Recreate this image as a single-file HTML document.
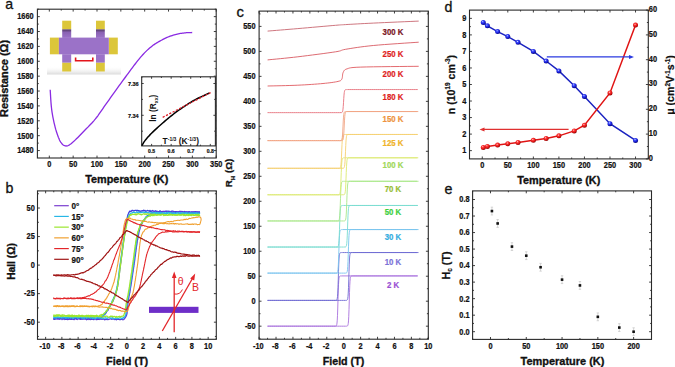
<!DOCTYPE html><html><head><meta charset="utf-8"><style>html,body{margin:0;padding:0;background:#fff;width:675px;height:367px;overflow:hidden}svg{display:block}text{font-family:"Liberation Sans",sans-serif}</style></head><body>
<svg width="675" height="367" viewBox="0 0 675 367">
<rect width="675" height="367" fill="#fff"/>
<defs><linearGradient id="shad" x1="0" y1="0" x2="0" y2="1"><stop offset="0" stop-color="#fff" stop-opacity="0"/><stop offset="1" stop-color="#bdbdbd"/></linearGradient><linearGradient id="pvt" x1="0" y1="0" x2="0" y2="1"><stop offset="0" stop-color="#4e3660"/><stop offset="0.35" stop-color="#8a62b3"/><stop offset="1" stop-color="#9b72c8"/></linearGradient></defs>
<defs><radialGradient id="shad2" cx="0.5" cy="1" r="0.6" gradientTransform="translate(0 0) scale(1 1)"><stop offset="0" stop-color="#9a9a9a"/><stop offset="1" stop-color="#fff" stop-opacity="0"/></radialGradient></defs>
<rect x="47" y="66" width="74" height="8.5" fill="url(#shad)" opacity="0.55"/>
<rect x="49.9" y="37.6" width="9" height="16.7" fill="#dcc63a"/>
<rect x="108.8" y="37.6" width="9" height="16.7" fill="#dcc63a"/>
<rect x="62.2" y="20.7" width="9" height="8.7" fill="#dcc63a"/>
<rect x="96" y="20.7" width="8.8" height="8.7" fill="#dcc63a"/>
<rect x="62.2" y="62.5" width="9" height="9" fill="#dcc63a"/>
<rect x="96" y="62.5" width="8.8" height="9" fill="#dcc63a"/>
<rect x="58.9" y="37.6" width="49.9" height="16.7" fill="#9b72c8"/>
<rect x="62.2" y="29.4" width="9" height="8.5" fill="url(#pvt)"/>
<rect x="96" y="29.4" width="8.8" height="8.5" fill="url(#pvt)"/>
<rect x="62.2" y="54.2" width="9" height="8.4" fill="#9b72c8"/>
<rect x="96" y="54.2" width="8.8" height="8.4" fill="#9b72c8"/>
<path d="M75.6 57.4 V60.8 H92.8 V57.4" fill="none" stroke="#e3141b" stroke-width="1.6"/>
<rect x="37.4" y="9.2" width="178.8" height="148.8" fill="none" stroke="#2a2a2a" stroke-width="1.1"/>
<path d="M49.32 158 v-2.4 M49.32 9.2 v2.4 M73.16 158 v-2.4 M73.16 9.2 v2.4 M97 158 v-2.4 M97 9.2 v2.4 M120.84 158 v-2.4 M120.84 9.2 v2.4 M144.68 158 v-2.4 M144.68 9.2 v2.4 M168.52 158 v-2.4 M168.52 9.2 v2.4 M192.36 158 v-2.4 M192.36 9.2 v2.4 M216.2 158 v-2.4 M216.2 9.2 v2.4 M61.24 158 v-1.4 M61.24 9.2 v1.4 M85.08 158 v-1.4 M85.08 9.2 v1.4 M108.92 158 v-1.4 M108.92 9.2 v1.4 M132.76 158 v-1.4 M132.76 9.2 v1.4 M156.6 158 v-1.4 M156.6 9.2 v1.4 M180.44 158 v-1.4 M180.44 9.2 v1.4 M204.28 158 v-1.4 M204.28 9.2 v1.4 M37.4 150.56 h2.4 M216.2 150.56 h-2.4 M37.4 135.68 h2.4 M216.2 135.68 h-2.4 M37.4 120.8 h2.4 M216.2 120.8 h-2.4 M37.4 105.92 h2.4 M216.2 105.92 h-2.4 M37.4 91.04 h2.4 M216.2 91.04 h-2.4 M37.4 76.16 h2.4 M216.2 76.16 h-2.4 M37.4 61.28 h2.4 M216.2 61.28 h-2.4 M37.4 46.4 h2.4 M216.2 46.4 h-2.4 M37.4 31.52 h2.4 M216.2 31.52 h-2.4 M37.4 16.64 h2.4 M216.2 16.64 h-2.4 M37.4 143.12 h1.4 M216.2 143.12 h-1.4 M37.4 128.24 h1.4 M216.2 128.24 h-1.4 M37.4 113.36 h1.4 M216.2 113.36 h-1.4 M37.4 98.48 h1.4 M216.2 98.48 h-1.4 M37.4 83.6 h1.4 M216.2 83.6 h-1.4 M37.4 68.72 h1.4 M216.2 68.72 h-1.4 M37.4 53.84 h1.4 M216.2 53.84 h-1.4 M37.4 38.96 h1.4 M216.2 38.96 h-1.4 M37.4 24.08 h1.4 M216.2 24.08 h-1.4 M37.4 9.2 h1.4 M216.2 9.2 h-1.4" stroke="#2a2a2a" stroke-width="0.9" fill="none"/>
<text transform="translate(49.32 167.45) scale(0.88 1)" font-size="8.4" text-anchor="middle" font-weight="bold" fill="#111" stroke="#111" stroke-width="0.22" >0</text>
<text transform="translate(73.16 167.45) scale(0.88 1)" font-size="8.4" text-anchor="middle" font-weight="bold" fill="#111" stroke="#111" stroke-width="0.22" >50</text>
<text transform="translate(97 167.45) scale(0.88 1)" font-size="8.4" text-anchor="middle" font-weight="bold" fill="#111" stroke="#111" stroke-width="0.22" >100</text>
<text transform="translate(120.84 167.45) scale(0.88 1)" font-size="8.4" text-anchor="middle" font-weight="bold" fill="#111" stroke="#111" stroke-width="0.22" >150</text>
<text transform="translate(144.68 167.45) scale(0.88 1)" font-size="8.4" text-anchor="middle" font-weight="bold" fill="#111" stroke="#111" stroke-width="0.22" >200</text>
<text transform="translate(168.52 167.45) scale(0.88 1)" font-size="8.4" text-anchor="middle" font-weight="bold" fill="#111" stroke="#111" stroke-width="0.22" >250</text>
<text transform="translate(192.36 167.45) scale(0.88 1)" font-size="8.4" text-anchor="middle" font-weight="bold" fill="#111" stroke="#111" stroke-width="0.22" >300</text>
<text transform="translate(216.2 167.45) scale(0.88 1)" font-size="8.4" text-anchor="middle" font-weight="bold" fill="#111" stroke="#111" stroke-width="0.22" >350</text>
<text transform="translate(33.6 153.41) scale(0.88 1)" font-size="8.4" text-anchor="end" font-weight="bold" fill="#111" stroke="#111" stroke-width="0.22" >1480</text>
<text transform="translate(33.6 138.53) scale(0.88 1)" font-size="8.4" text-anchor="end" font-weight="bold" fill="#111" stroke="#111" stroke-width="0.22" >1500</text>
<text transform="translate(33.6 123.65) scale(0.88 1)" font-size="8.4" text-anchor="end" font-weight="bold" fill="#111" stroke="#111" stroke-width="0.22" >1520</text>
<text transform="translate(33.6 108.77) scale(0.88 1)" font-size="8.4" text-anchor="end" font-weight="bold" fill="#111" stroke="#111" stroke-width="0.22" >1540</text>
<text transform="translate(33.6 93.89) scale(0.88 1)" font-size="8.4" text-anchor="end" font-weight="bold" fill="#111" stroke="#111" stroke-width="0.22" >1560</text>
<text transform="translate(33.6 79.01) scale(0.88 1)" font-size="8.4" text-anchor="end" font-weight="bold" fill="#111" stroke="#111" stroke-width="0.22" >1580</text>
<text transform="translate(33.6 64.13) scale(0.88 1)" font-size="8.4" text-anchor="end" font-weight="bold" fill="#111" stroke="#111" stroke-width="0.22" >1600</text>
<text transform="translate(33.6 49.25) scale(0.88 1)" font-size="8.4" text-anchor="end" font-weight="bold" fill="#111" stroke="#111" stroke-width="0.22" >1620</text>
<text transform="translate(33.6 34.37) scale(0.88 1)" font-size="8.4" text-anchor="end" font-weight="bold" fill="#111" stroke="#111" stroke-width="0.22" >1640</text>
<text transform="translate(33.6 19.49) scale(0.88 1)" font-size="8.4" text-anchor="end" font-weight="bold" fill="#111" stroke="#111" stroke-width="0.22" >1660</text>
<path d="M50.2 89.8 L50.28 91.09 L50.38 92.83 L50.5 94.91 L50.64 97.2 L50.79 99.59 L50.95 101.95 L51.12 104.16 L51.3 106.1 L51.48 107.8 L51.67 109.38 L51.86 110.87 L52.07 112.3 L52.29 113.71 L52.54 115.12 L52.8 116.58 L53.1 118.1 L53.42 119.7 L53.77 121.35 L54.14 123.03 L54.54 124.72 L54.95 126.4 L55.38 128.05 L55.83 129.66 L56.3 131.2 L56.79 132.72 L57.29 134.24 L57.82 135.76 L58.36 137.22 L58.92 138.62 L59.5 139.92 L60.09 141.09 L60.7 142.1 L61.32 142.97 L61.95 143.75 L62.6 144.41 L63.26 144.96 L63.94 145.4 L64.64 145.72 L65.36 145.92 L66.1 146 L66.84 145.95 L67.56 145.78 L68.3 145.48 L69.06 145.07 L69.86 144.54 L70.72 143.9 L71.66 143.15 L72.7 142.3 L73.85 141.3 L75.11 140.13 L76.44 138.84 L77.84 137.44 L79.27 135.97 L80.72 134.47 L82.17 132.97 L83.6 131.5 L85.03 130.05 L86.48 128.58 L87.96 127.09 L89.44 125.57 L90.92 124.02 L92.38 122.45 L93.81 120.84 L95.2 119.2 L96.54 117.51 L97.85 115.77 L99.13 113.98 L100.39 112.18 L101.64 110.35 L102.88 108.52 L104.13 106.7 L105.4 104.9 L106.68 103.11 L107.96 101.31 L109.24 99.51 L110.52 97.71 L111.8 95.91 L113.07 94.13 L114.34 92.35 L115.6 90.6 L116.85 88.87 L118.07 87.17 L119.29 85.49 L120.51 83.82 L121.73 82.14 L122.96 80.45 L124.22 78.74 L125.5 77 L126.83 75.19 L128.22 73.3 L129.64 71.37 L131.06 69.44 L132.47 67.55 L133.85 65.71 L135.16 63.99 L136.4 62.4 L137.55 60.95 L138.62 59.61 L139.64 58.37 L140.62 57.19 L141.58 56.08 L142.53 55 L143.5 53.95 L144.5 52.9 L145.52 51.87 L146.54 50.87 L147.57 49.9 L148.59 48.98 L149.62 48.08 L150.65 47.22 L151.67 46.39 L152.7 45.6 L153.72 44.85 L154.75 44.14 L155.77 43.47 L156.8 42.84 L157.82 42.23 L158.85 41.64 L159.87 41.07 L160.9 40.5 L161.93 39.95 L162.95 39.41 L163.97 38.89 L165 38.39 L166.03 37.91 L167.05 37.45 L168.08 37.01 L169.1 36.6 L170.12 36.21 L171.15 35.85 L172.17 35.51 L173.2 35.19 L174.22 34.89 L175.25 34.61 L176.27 34.35 L177.3 34.1 L178.34 33.87 L179.39 33.67 L180.44 33.48 L181.49 33.31 L182.53 33.16 L183.56 33.03 L184.55 32.91 L185.5 32.8 L186.46 32.71 L187.44 32.65 L188.42 32.6 L189.36 32.57 L190.24 32.55 L191.03 32.53 L191.69 32.52 L192.2 32.5" fill="none" stroke="#8a2be2" stroke-width="1.3"/>
<text x="126.75" y="183.1" font-size="10.6" text-anchor="middle" font-weight="bold" fill="#111" stroke="#111" stroke-width="0.32" textLength="83.1" lengthAdjust="spacingAndGlyphs">Temperature (K)</text>
<text transform="translate(7.9 78.5) rotate(-90)" font-size="10.6" text-anchor="middle" font-weight="bold" fill="#111" stroke="#111" stroke-width="0.32" textLength="77.1" lengthAdjust="spacingAndGlyphs">Resistance (Ω)</text>
<text transform="translate(5.2 8.6) scale(1.0 1)" font-size="14.2" text-anchor="start" font-weight="normal" fill="#111" stroke="#111" stroke-width="0.3" >a</text>
<rect x="141.7" y="76.8" width="73.7" height="69.1" fill="#fff"/>
<rect x="141.7" y="76.8" width="73.7" height="69.1" fill="none" stroke="#2a2a2a" stroke-width="1.1"/>
<path d="M151.6 145.9 v-2.0 M151.6 76.8 v2.0 M171.17 145.9 v-2.0 M171.17 76.8 v2.0 M190.73 145.9 v-2.0 M190.73 76.8 v2.0 M210.3 145.9 v-2.0 M210.3 76.8 v2.0 M141.82 145.9 v-1.2 M141.82 76.8 v1.2 M161.38 145.9 v-1.2 M161.38 76.8 v1.2 M180.95 145.9 v-1.2 M180.95 76.8 v1.2 M200.52 145.9 v-1.2 M200.52 76.8 v1.2 M141.7 115.3 h2.0 M215.4 115.3 h-2.0 M141.7 83.5 h2.0 M215.4 83.5 h-2.0 M141.7 131.2 h1.2 M215.4 131.2 h-1.2 M141.7 99.4 h1.2 M215.4 99.4 h-1.2" stroke="#2a2a2a" stroke-width="0.9" fill="none"/>
<text transform="translate(151.6 152.6) scale(0.88 1)" font-size="5.8" text-anchor="middle" font-weight="bold" fill="#111" stroke="#111" stroke-width="0.22" >0.5</text>
<text transform="translate(171.17 152.6) scale(0.88 1)" font-size="5.8" text-anchor="middle" font-weight="bold" fill="#111" stroke="#111" stroke-width="0.22" >0.6</text>
<text transform="translate(190.73 152.6) scale(0.88 1)" font-size="5.8" text-anchor="middle" font-weight="bold" fill="#111" stroke="#111" stroke-width="0.22" >0.7</text>
<text transform="translate(210.3 152.6) scale(0.88 1)" font-size="5.8" text-anchor="middle" font-weight="bold" fill="#111" stroke="#111" stroke-width="0.22" >0.8</text>
<text transform="translate(138.5 85.7) scale(0.88 1)" font-size="6.2" text-anchor="end" font-weight="bold" fill="#111" stroke="#111" stroke-width="0.22" >7.36</text>
<text transform="translate(138.5 117.5) scale(0.88 1)" font-size="6.2" text-anchor="end" font-weight="bold" fill="#111" stroke="#111" stroke-width="0.22" >7.34</text>
<path d="M142 145.5 L142.21 145.14 L142.45 144.68 L142.74 144.14 L143.08 143.52 L143.46 142.85 L143.91 142.13 L144.42 141.38 L145 140.6 L145.64 139.8 L146.34 138.95 L147.09 138.05 L147.91 137.12 L148.78 136.14 L149.72 135.13 L150.73 134.08 L151.8 133 L152.97 131.86 L154.24 130.65 L155.59 129.38 L156.99 128.09 L158.43 126.78 L159.88 125.49 L161.31 124.22 L162.7 123 L164.06 121.82 L165.42 120.65 L166.79 119.49 L168.15 118.36 L169.51 117.24 L170.87 116.14 L172.24 115.06 L173.6 114 L174.96 112.97 L176.32 111.96 L177.69 110.97 L179.05 110.01 L180.41 109.06 L181.78 108.12 L183.14 107.21 L184.5 106.3 L185.84 105.41 L187.15 104.55 L188.45 103.71 L189.75 102.88 L191.08 102.06 L192.45 101.24 L193.88 100.43 L195.4 99.6 L197.11 98.73 L199.03 97.79 L201.07 96.83 L203.13 95.88 L205.1 94.99 L206.89 94.18 L208.39 93.51 L209.5 93" fill="none" stroke="#000" stroke-width="1.5"/>
<path d="M162.7 117.3 L210.6 92.6" fill="none" stroke="#e0202a" stroke-width="1.3" stroke-dasharray="2.2 1.5"/>
<text transform="translate(156.2 108.2) rotate(-90)" font-size="8.4" text-anchor="middle" font-weight="bold" fill="#111">ln (R<tspan font-size="5.2" dy="2">xx</tspan><tspan dy="-2">)</tspan></text>
<text x="162.6" y="144.3" font-size="8.4" font-weight="bold" fill="#111">T<tspan font-size="5" dy="-3.6">-1/3</tspan><tspan dy="3.6"> (K</tspan><tspan font-size="5" dy="-3.6">-1/3</tspan><tspan dy="3.6">)</tspan></text>
<rect x="37.5" y="190.9" width="178.8" height="148.4" fill="none" stroke="#2a2a2a" stroke-width="1.1"/>
<path d="M45.63 339.3 v-2.4 M45.63 190.9 v2.4 M61.88 339.3 v-2.4 M61.88 190.9 v2.4 M78.14 339.3 v-2.4 M78.14 190.9 v2.4 M94.39 339.3 v-2.4 M94.39 190.9 v2.4 M110.65 339.3 v-2.4 M110.65 190.9 v2.4 M126.9 339.3 v-2.4 M126.9 190.9 v2.4 M143.15 339.3 v-2.4 M143.15 190.9 v2.4 M159.41 339.3 v-2.4 M159.41 190.9 v2.4 M175.66 339.3 v-2.4 M175.66 190.9 v2.4 M191.92 339.3 v-2.4 M191.92 190.9 v2.4 M208.17 339.3 v-2.4 M208.17 190.9 v2.4 M37.5 339.3 v-1.4 M37.5 190.9 v1.4 M53.75 339.3 v-1.4 M53.75 190.9 v1.4 M70.01 339.3 v-1.4 M70.01 190.9 v1.4 M86.26 339.3 v-1.4 M86.26 190.9 v1.4 M102.52 339.3 v-1.4 M102.52 190.9 v1.4 M118.77 339.3 v-1.4 M118.77 190.9 v1.4 M135.03 339.3 v-1.4 M135.03 190.9 v1.4 M151.28 339.3 v-1.4 M151.28 190.9 v1.4 M167.54 339.3 v-1.4 M167.54 190.9 v1.4 M183.79 339.3 v-1.4 M183.79 190.9 v1.4 M200.05 339.3 v-1.4 M200.05 190.9 v1.4 M216.3 339.3 v-1.4 M216.3 190.9 v1.4 M37.5 322.18 h2.4 M216.3 322.18 h-2.4 M37.5 293.64 h2.4 M216.3 293.64 h-2.4 M37.5 265.1 h2.4 M216.3 265.1 h-2.4 M37.5 236.56 h2.4 M216.3 236.56 h-2.4 M37.5 208.02 h2.4 M216.3 208.02 h-2.4 M37.5 336.45 h1.4 M216.3 336.45 h-1.4 M37.5 307.91 h1.4 M216.3 307.91 h-1.4 M37.5 279.37 h1.4 M216.3 279.37 h-1.4 M37.5 250.83 h1.4 M216.3 250.83 h-1.4 M37.5 222.29 h1.4 M216.3 222.29 h-1.4 M37.5 193.75 h1.4 M216.3 193.75 h-1.4" stroke="#2a2a2a" stroke-width="0.9" fill="none"/>
<text transform="translate(44.93 348.65) scale(0.88 1)" font-size="8.4" text-anchor="middle" font-weight="bold" fill="#111" stroke="#111" stroke-width="0.22" >-10</text>
<text transform="translate(61.18 348.65) scale(0.88 1)" font-size="8.4" text-anchor="middle" font-weight="bold" fill="#111" stroke="#111" stroke-width="0.22" >-8</text>
<text transform="translate(77.44 348.65) scale(0.88 1)" font-size="8.4" text-anchor="middle" font-weight="bold" fill="#111" stroke="#111" stroke-width="0.22" >-6</text>
<text transform="translate(93.69 348.65) scale(0.88 1)" font-size="8.4" text-anchor="middle" font-weight="bold" fill="#111" stroke="#111" stroke-width="0.22" >-4</text>
<text transform="translate(109.95 348.65) scale(0.88 1)" font-size="8.4" text-anchor="middle" font-weight="bold" fill="#111" stroke="#111" stroke-width="0.22" >-2</text>
<text transform="translate(126.9 348.65) scale(0.88 1)" font-size="8.4" text-anchor="middle" font-weight="bold" fill="#111" stroke="#111" stroke-width="0.22" >0</text>
<text transform="translate(143.15 348.65) scale(0.88 1)" font-size="8.4" text-anchor="middle" font-weight="bold" fill="#111" stroke="#111" stroke-width="0.22" >2</text>
<text transform="translate(159.41 348.65) scale(0.88 1)" font-size="8.4" text-anchor="middle" font-weight="bold" fill="#111" stroke="#111" stroke-width="0.22" >4</text>
<text transform="translate(175.66 348.65) scale(0.88 1)" font-size="8.4" text-anchor="middle" font-weight="bold" fill="#111" stroke="#111" stroke-width="0.22" >6</text>
<text transform="translate(191.92 348.65) scale(0.88 1)" font-size="8.4" text-anchor="middle" font-weight="bold" fill="#111" stroke="#111" stroke-width="0.22" >8</text>
<text transform="translate(208.17 348.65) scale(0.88 1)" font-size="8.4" text-anchor="middle" font-weight="bold" fill="#111" stroke="#111" stroke-width="0.22" >10</text>
<text transform="translate(34.8 325.03) scale(0.88 1)" font-size="8.4" text-anchor="end" font-weight="bold" fill="#111" stroke="#111" stroke-width="0.22" >-50</text>
<text transform="translate(34.8 296.49) scale(0.88 1)" font-size="8.4" text-anchor="end" font-weight="bold" fill="#111" stroke="#111" stroke-width="0.22" >-25</text>
<text transform="translate(34.8 267.95) scale(0.88 1)" font-size="8.4" text-anchor="end" font-weight="bold" fill="#111" stroke="#111" stroke-width="0.22" >0</text>
<text transform="translate(34.8 239.41) scale(0.88 1)" font-size="8.4" text-anchor="end" font-weight="bold" fill="#111" stroke="#111" stroke-width="0.22" >25</text>
<text transform="translate(34.8 210.87) scale(0.88 1)" font-size="8.4" text-anchor="end" font-weight="bold" fill="#111" stroke="#111" stroke-width="0.22" >50</text>
<text x="127.1" y="364.9" font-size="10.6" text-anchor="middle" font-weight="bold" fill="#111" stroke="#111" stroke-width="0.32" textLength="42.2" lengthAdjust="spacingAndGlyphs">Field (T)</text>
<text transform="translate(14.7 261.5) rotate(-90)" font-size="10.6" text-anchor="middle" font-weight="bold" fill="#111" stroke="#111" stroke-width="0.32" textLength="36.7" lengthAdjust="spacingAndGlyphs">Hall (Ω)</text>
<text transform="translate(5.6 192.9) scale(1.0 1)" font-size="14.2" text-anchor="start" font-weight="normal" fill="#111" stroke="#111" stroke-width="0.3" >b</text>
<path d="M54.2 205.7 H68.8" stroke="#7b3fd0" stroke-width="1.2"/>
<text transform="translate(71.4 208.9) scale(0.9 1)" font-size="9.0" text-anchor="start" font-weight="bold" fill="#111" stroke="#111" stroke-width="0.22" >0°</text>
<path d="M54.2 216.42 H68.8" stroke="#27b7e6" stroke-width="1.2"/>
<text transform="translate(71.4 219.62) scale(0.9 1)" font-size="9.0" text-anchor="start" font-weight="bold" fill="#111" stroke="#111" stroke-width="0.22" >15°</text>
<path d="M54.2 227.14 H68.8" stroke="#9be62f" stroke-width="1.2"/>
<text transform="translate(71.4 230.34) scale(0.9 1)" font-size="9.0" text-anchor="start" font-weight="bold" fill="#111" stroke="#111" stroke-width="0.22" >30°</text>
<path d="M54.2 237.86 H68.8" stroke="#f0a030" stroke-width="1.2"/>
<text transform="translate(71.4 241.06) scale(0.9 1)" font-size="9.0" text-anchor="start" font-weight="bold" fill="#111" stroke="#111" stroke-width="0.22" >60°</text>
<path d="M54.2 248.58 H68.8" stroke="#e3262a" stroke-width="1.2"/>
<text transform="translate(71.4 251.78) scale(0.9 1)" font-size="9.0" text-anchor="start" font-weight="bold" fill="#111" stroke="#111" stroke-width="0.22" >75°</text>
<path d="M54.2 259.3 H68.8" stroke="#a01515" stroke-width="1.2"/>
<text transform="translate(71.4 262.5) scale(0.9 1)" font-size="9.0" text-anchor="start" font-weight="bold" fill="#111" stroke="#111" stroke-width="0.22" >90°</text>
<path d="M200 212.11 L199.25 212.43 L198.5 212.21 L197.75 212.44 L197 212.44 L196.25 211.8 L195.5 211.72 L194.79 212.61 L194.09 211.95 L193.38 211.9 L192.68 212.71 L191.97 212.11 L191.26 212.49 L190.56 212.07 L189.85 212.23 L189.15 211.67 L188.4 212.18 L187.66 212.41 L186.91 212.01 L186.16 212.23 L185.42 212.13 L184.67 211.43 L183.93 212.17 L183.18 211.97 L182.43 211.62 L181.69 211.3 L180.98 212.2 L180.26 211.74 L179.55 211.99 L178.84 212.15 L178.13 211.94 L177.41 212.15 L176.7 211.55 L175.99 211.97 L175.28 211.56 L174.56 212.08 L173.85 211.99 L173.1 211.11 L172.36 211.13 L171.61 211.2 L170.86 212 L170.11 211.4 L169.37 211.59 L168.62 211.21 L167.87 211.41 L167.12 211.26 L166.38 211.2 L165.67 211.44 L164.96 211.42 L164.25 211.75 L163.54 211.49 L162.83 211.74 L162.13 211.65 L161.42 211.78 L160.71 211.41 L160 210.83 L159.21 211.58 L158.42 211.67 L157.64 211.59 L156.85 211.2 L156.06 211.34 L155.27 210.77 L154.49 211.43 L153.73 211.13 L152.98 210.79 L152.22 210.52 L151.47 211.37 L150.71 211.5 L149.96 210.49 L149.2 211.26 L148.5 210.81 L147.8 210.51 L147.09 210.65 L146.39 211.16 L145.69 211.25 L144.98 210.33 L144.28 210.94 L143.54 210.3 L142.8 211.03 L142.07 210.6 L141.33 211.19 L140.59 211.29 L139.85 210.76 L139.09 211.3 L138.33 210.55 L137.57 210.3 L136.81 210.88 L136.05 210.26 L135.29 210.47 L134.52 210.73 L133.76 210.99 L133 210.52 L131.96 210.5 L130.92 211.5 L129.74 211.14 L129.18 212.17 L128.97 212.54 L128.84 212.57 L128.5 213.46 L128.04 214.46 L127.71 215.64 L127.44 216.78 L127.32 217.45 L127.2 218.22 L127.07 219.42 L126.94 219.79 L126.77 220.71 L126.6 222.04 L126.46 222.31 L126.33 223.17 L126.19 224.71 L126.05 225.1 L125.9 226.03 L125.76 226.34 L125.64 227.53 L125.52 228.46 L125.41 228.58 L125.29 229.98 L125.17 230.8 L125.05 230.98 L124.93 232.4 L124.81 233.03 L124.69 234.11 L124.56 234.6 L124.44 235.84 L124.31 236.72 L124.21 236.64 L124.11 237.39 L124 238.78 L123.9 239.8 L123.8 239.73 L123.69 240.71 L123.59 241.62 L123.48 242.08 L123.37 242.89 L123.27 243.59 L123.15 244.47 L123.04 245.54 L122.93 246.04 L122.82 246.95 L122.7 248.2 L122.61 248.1 L122.51 249.41 L122.41 250.31 L122.32 250.56 L122.22 251.18 L122.12 252.53 L122.03 252.64 L121.93 253.31 L121.83 254.31 L121.74 255.33 L121.64 255.4 L121.54 256.37 L121.44 257.1 L121.35 258.37 L121.25 258.65 L121.15 259.83 L121.06 259.79 L120.96 260.69 L120.85 261.86 L120.74 262.95 L120.62 263.29 L120.51 263.87 L120.4 264.58 L120.29 265.85 L120.19 266.29 L120.08 267.78 L119.97 268.63 L119.86 268.73 L119.76 269.66 L119.66 271.07 L119.55 271.72 L119.45 272.73 L119.35 273.05 L119.25 273.63 L119.14 274.63 L119.04 276 L118.94 276.24 L118.84 277.14 L118.73 278 L118.63 278.79 L118.53 279.56 L118.42 280.9 L118.32 280.84 L118.21 281.4 L118.1 283.15 L117.99 283.8 L117.89 284.64 L117.78 284.75 L117.63 286.11 L117.49 286.88 L117.34 286.9 L117.2 288.27 L117 289.26 L116.8 289.95 L116.6 290.67 L116.4 291.16 L116.19 291.96 L115.99 292.57 L115.67 293.35 L115.36 294.88 L115.02 295.42 L114.69 296.86 L114.33 296.87 L113.97 298.66 L113.59 299.32 L113.2 300.47 L112.78 301.38 L112.35 302.32 L111.89 302.9 L111.43 303.22 L110.95 304.94 L110.47 305.22 L109.97 306.24 L109.48 307.52 L108.98 308.19 L108.48 308.89 L107.99 310.23 L107.5 310.62 L107.02 311.02 L106.54 311.63 L106.06 312.95 L105.57 313.19 L105.09 314.13 L104.61 314.26 L104.12 314.63 L103.63 315.54 L102.63 316.78 L101.6 316.84 L100.95 318.08 L100.75 318.58 L100.54 318.67 L99.83 318.8 L98.98 317.94 L98.14 318.66 L97.35 318.94 L96.57 318.07 L95.78 318.33 L95 318.35 L94.23 318.64 L93.46 318.53 L92.69 318.59 L91.91 318.94 L91.14 318.09 L90.37 318.16 L89.6 318.25 L88.85 318.24 L88.11 318.18 L87.37 319.18 L86.62 319.04 L85.88 318.2 L85.13 318.65 L84.39 318.45 L83.64 318.44 L82.9 318.48 L82.16 318.81 L81.45 318.73 L80.75 318.48 L80.05 318.29 L79.35 318.44 L78.65 318.21 L77.95 318.68 L77.25 318.85 L76.54 318.47 L75.84 318.14 L75.14 318.24 L74.44 318.45 L73.74 318.7 L72.98 318.89 L72.22 318.44 L71.47 318.9 L70.71 318.69 L69.95 318.48 L69.2 318.41 L68.44 318.53 L67.68 318.76 L66.92 318.44 L66.17 318.73 L65.41 318.47 L64.69 318.22 L63.98 318.54 L63.26 318.7 L62.54 318.01 L61.83 318.39 L61.11 318.39 L60.39 318.88 L59.68 318.93 L58.96 318.31 L58.24 318.88 L57.54 318.75 L56.83 318.17 L56.12 318.38 L55.42 318 L54.71 318.76 L54.01 318.58 L53.3 318.83" fill="none" stroke="#3b40dd" stroke-width="1.3" stroke-linejoin="round"/>
<path d="M53.3 319.32 L54.03 319.19 L54.77 319.27 L55.5 319.08 L56.23 318.58 L56.96 319.12 L57.7 318.48 L58.43 318.64 L59.16 319.33 L59.9 318.54 L60.63 318.59 L61.34 318.6 L62.05 319.47 L62.76 318.7 L63.47 318.53 L64.17 319.44 L64.88 318.65 L65.59 319.45 L66.3 319.27 L67.01 319.45 L67.72 319.58 L68.43 319.17 L69.14 319.42 L69.85 318.59 L70.56 319.39 L71.27 319.12 L71.99 319.34 L72.72 318.68 L73.45 319.39 L74.17 319.6 L74.9 318.64 L75.63 318.94 L76.35 319.2 L77.08 319.5 L77.81 318.86 L78.53 318.79 L79.26 318.87 L79.99 319.28 L80.71 319.44 L81.44 319.05 L82.17 319.02 L82.89 319.06 L83.62 319.01 L84.35 319.09 L85.09 318.72 L85.82 319.19 L86.55 319.71 L87.29 319.1 L88.02 319.47 L88.75 318.83 L89.49 319.42 L90.22 319.49 L90.95 319.4 L91.69 319.24 L92.42 319.2 L93.15 319.38 L93.89 319.67 L94.62 318.85 L95.36 318.79 L96.09 319.51 L96.82 319.7 L97.55 319.27 L98.29 319.19 L99.02 319.49 L99.75 318.91 L100.49 319 L101.22 318.93 L101.95 319.36 L102.68 319.06 L103.42 318.98 L104.15 319.48 L104.88 319.78 L105.62 319.06 L106.35 319.51 L107.08 319.19 L107.8 319.68 L108.52 319.38 L109.24 319.03 L109.96 318.98 L110.68 318.77 L111.4 319.27 L112.12 319.17 L112.84 318.94 L113.56 319.14 L114.28 319.1 L115 319.6 L115.76 318.91 L116.52 319.85 L117.28 319.29 L118.04 319.42 L118.8 319.28 L119.56 319.69 L120.36 319.69 L121.17 319.42 L121.97 319.35 L122.91 319.64 L123.03 319.76 L123.01 319.1 L123.5 319.16 L124.36 318.99 L125.02 317.99 L125.54 317.15 L125.96 316.4 L126.33 315.93 L126.7 314.59 L126.87 314.05 L127.04 313.08 L127.13 311.71 L127.22 310.96 L127.31 310.34 L127.38 309.48 L127.45 309.28 L127.52 308.67 L127.59 307.91 L127.66 306.39 L127.73 306.25 L127.8 304.86 L127.87 304.19 L127.94 303.73 L128.03 302.3 L128.11 301.58 L128.2 301.67 L128.34 300.16 L128.48 299.31 L128.62 298.78 L128.76 298.1 L128.91 296.61 L129.06 296.21 L129.22 295.48 L129.38 294.7 L129.57 293.37 L129.76 292.75 L129.9 292.27 L130.05 290.77 L130.2 290.05 L130.33 288.74 L130.47 288.07 L130.6 287.65 L130.73 286.2 L130.86 286.26 L130.98 285.5 L131.1 283.82 L131.22 283.96 L131.34 282.54 L131.45 282.26 L131.57 281.52 L131.68 280.29 L131.79 279.99 L131.9 279.25 L132.01 278.69 L132.12 277.35 L132.23 277.13 L132.35 276.61 L132.46 275.54 L132.58 274.63 L132.69 273.42 L132.8 273.08 L132.91 272.17 L133.03 271.82 L133.14 271.03 L133.25 270.15 L133.36 268.98 L133.47 268.76 L133.58 268.03 L133.68 266.81 L133.79 266.87 L133.89 265.89 L134 264.59 L134.1 264.76 L134.2 263.17 L134.3 262.66 L134.4 262.37 L134.51 261.52 L134.61 260.75 L134.71 260.11 L134.81 259.16 L134.91 258.25 L135.01 257.36 L135.11 256.49 L135.21 256.46 L135.31 255.76 L135.4 254.78 L135.5 254.25 L135.6 253.09 L135.7 252.24 L135.8 251.62 L135.9 251.44 L135.99 249.81 L136.09 249.6 L136.19 248.6 L136.28 248.46 L136.38 247.28 L136.5 246.47 L136.61 245.75 L136.72 245.11 L136.84 244.57 L136.95 243.31 L137.06 243.16 L137.17 241.66 L137.28 241.14 L137.39 240.25 L137.5 239.57 L137.63 239.58 L137.76 238.79 L137.89 237.46 L138.02 236.74 L138.17 236.16 L138.33 235.69 L138.49 234.94 L138.65 234.15 L138.8 233.26 L138.96 232.05 L139.19 231.37 L139.43 230.18 L139.68 229.66 L139.94 228.81 L140.22 227.54 L140.5 226.73 L140.8 226.48 L141.11 224.83 L141.42 224.94 L141.73 224.3 L142.06 223.7 L142.39 222.4 L142.75 221.97 L143.1 221.39 L143.86 220.28 L144.28 220.09 L144.7 219.21 L145.15 218.23 L145.6 218.29 L146.07 217.35 L146.54 216.95 L147.05 216.6 L147.55 215.31 L148.62 215.26 L149.77 214.35 L150.38 213.82 L151 213.53 L151.98 212.93 L152.65 212.24 L153.39 212.31 L154.6 211.56 L155.64 211.99 L156.67 212.08 L157.51 211.83 L158.34 211.93 L159.17 212.33 L160 212.23 L160.76 211.39 L161.52 212.11 L162.29 211.91 L163.05 211.28 L163.81 211.61 L164.57 211.46 L165.34 211.29 L166.05 211.8 L166.77 212.23 L167.49 211.57 L168.21 212.17 L168.93 211.99 L169.65 211.37 L170.36 212.17 L171.08 211.9 L171.8 212.26 L172.52 212.03 L173.25 212.07 L173.98 211.64 L174.71 212.16 L175.44 212.3 L176.17 212.24 L176.91 211.78 L177.64 212.14 L178.37 211.85 L179.1 211.45 L179.83 211.38 L180.56 211.43 L181.28 211.58 L182 211.54 L182.72 211.92 L183.44 212.16 L184.16 211.99 L184.88 211.88 L185.6 212.14 L186.32 211.77 L187.04 211.96 L187.76 212.29 L188.48 211.91 L189.24 211.68 L189.99 212.48 L190.75 212.3 L191.51 211.92 L192.26 211.94 L193.02 212.13 L193.78 212.21 L194.53 211.82 L195.29 211.59 L196.07 211.82 L196.86 212.47 L197.64 211.77 L198.43 212.13 L199.21 211.85 L200 211.88" fill="none" stroke="#5a3ad8" stroke-width="1.3" stroke-linejoin="round"/>
<path d="M200 213.24 L199.25 213.48 L198.5 213.2 L197.74 213.03 L196.99 213.11 L196.24 213.16 L195.49 213.5 L194.78 213.01 L194.07 212.95 L193.36 213.41 L192.65 213.35 L191.94 213.66 L191.24 212.92 L190.53 213.3 L189.82 213.28 L189.11 212.85 L188.36 213.87 L187.61 213.03 L186.87 212.88 L186.12 213.28 L185.37 212.93 L184.62 213.42 L183.87 213.1 L183.12 212.84 L182.37 212.74 L181.62 213.47 L180.91 212.96 L180.2 213.51 L179.48 213.14 L178.77 213.64 L178.06 212.93 L177.34 212.86 L176.63 212.86 L175.92 213.45 L175.2 213.23 L174.49 212.9 L173.78 212.61 L173.03 213.25 L172.29 213.55 L171.54 213.12 L170.79 212.46 L170.05 212.47 L169.3 212.52 L168.56 212.59 L167.81 212.43 L167.07 212.44 L166.32 213.08 L165.62 213.34 L164.92 212.56 L164.21 213.4 L163.51 212.84 L162.81 213.18 L162.11 213.3 L161.4 213.31 L160.7 212.3 L160 212.59 L159.23 212.9 L158.46 213.26 L157.69 212.3 L156.92 212.51 L156.15 213.11 L155.38 212.28 L154.61 212.57 L153.88 212.49 L153.15 212.85 L152.43 213.1 L151.7 212.26 L150.97 212.86 L150.24 212.84 L149.51 212.93 L148.73 212.6 L147.94 212.99 L147.16 212.35 L146.37 212.39 L145.59 212.17 L144.8 212.75 L144.1 212.41 L143.39 212.17 L142.69 212.05 L141.99 212.64 L141.28 212.5 L140.58 212.61 L139.85 212.25 L139.12 212.36 L138.4 212 L137.67 212.61 L136.94 211.86 L136.21 212.38 L135.47 212.73 L134.74 212.67 L134 212.06 L132.97 212.31 L131.95 213.07 L130.75 213.08 L130.14 213.65 L129.86 214.07 L129.63 214.18 L129.2 215.44 L128.63 216.17 L128.15 216.74 L127.73 217.95 L127.53 218.31 L127.34 219.35 L127.14 220.77 L126.94 220.65 L126.72 222.12 L126.5 222.57 L126.35 223.28 L126.19 224.64 L126.04 224.93 L125.88 225.55 L125.73 226.49 L125.57 227.86 L125.42 228.71 L125.26 228.99 L125.11 230.14 L124.99 231.69 L124.87 231.61 L124.75 232.73 L124.63 233.32 L124.5 234.51 L124.38 235.12 L124.25 236.12 L124.13 236.64 L123.99 237.11 L123.86 237.95 L123.73 238.69 L123.6 240.36 L123.49 240.32 L123.37 240.97 L123.26 242.75 L123.15 242.65 L123.04 244.16 L122.92 244.09 L122.8 245.32 L122.68 245.87 L122.56 247.36 L122.44 247.94 L122.33 248.69 L122.23 249.54 L122.13 250.38 L122.02 250.52 L121.92 251.52 L121.82 252.07 L121.72 252.43 L121.61 253.96 L121.51 254.43 L121.4 255.4 L121.3 255.46 L121.2 256.56 L121.09 257.2 L120.99 258.22 L120.89 258.22 L120.79 259.24 L120.69 260.12 L120.58 260.39 L120.47 261.74 L120.35 262.77 L120.23 263.26 L120.12 264.33 L120 265.12 L119.89 265.5 L119.78 266.47 L119.67 267.99 L119.56 268.08 L119.45 269 L119.35 269.45 L119.25 270.42 L119.14 271.2 L119.04 272.87 L118.93 273.47 L118.83 274.45 L118.73 275.39 L118.63 275.8 L118.53 276.97 L118.42 277.35 L118.32 278.01 L118.22 279.37 L118.12 280.1 L118.01 280.93 L117.91 281.2 L117.8 282.24 L117.7 282.56 L117.59 283.93 L117.48 284.57 L117.38 284.6 L117.23 286.1 L117.09 286.07 L116.94 286.76 L116.8 288.24 L116.6 288.66 L116.4 289.79 L116.2 290.81 L116 290.9 L115.8 292.42 L115.59 292.64 L115.28 293.78 L114.96 294.64 L114.63 295.95 L114.3 296.83 L113.94 297.17 L113.58 297.81 L113.19 298.9 L112.8 299.9 L112.36 300.45 L111.92 301.45 L111.44 303.03 L110.95 303.86 L110.44 305.05 L109.93 305.93 L109.42 306.65 L108.9 306.93 L108.41 307.47 L107.91 308.4 L107.46 309.27 L107 310.03 L106.6 310.66 L106.21 311.08 L105.51 312.73 L104.86 313.09 L104.17 314.15 L103.41 315.37 L102.5 315.94 L101.82 315.9 L101.49 316.21 L101.08 317.1 L100.14 316.41 L99.2 316.61 L98.26 317.12 L97.45 317.15 L96.63 316.77 L95.82 316.68 L95 316.87 L94.22 317.51 L93.44 317.18 L92.66 317.76 L91.88 317.55 L91.1 317.78 L90.33 316.75 L89.55 316.92 L88.8 316.73 L88.06 317.19 L87.31 317.09 L86.56 316.77 L85.82 317.31 L85.07 316.82 L84.33 317.05 L83.58 316.98 L82.83 317.59 L82.09 317.17 L81.39 316.99 L80.69 316.75 L79.99 317.17 L79.29 317.38 L78.59 317.43 L77.89 317.68 L77.18 317.56 L76.48 316.94 L75.78 316.81 L75.08 317.49 L74.38 317.52 L73.68 317.21 L72.93 317.56 L72.17 317.24 L71.42 316.94 L70.66 316.81 L69.91 316.63 L69.15 317.31 L68.4 317.58 L67.64 317.59 L66.89 317.1 L66.13 317.31 L65.38 317.59 L64.66 317.46 L63.95 317.22 L63.23 317 L62.52 317.11 L61.81 316.72 L61.09 316.72 L60.38 317.27 L59.66 317.6 L58.95 317.1 L58.23 316.94 L57.53 316.87 L56.82 316.98 L56.12 317.36 L55.41 316.97 L54.71 317.52 L54 316.63 L53.3 316.8" fill="none" stroke="#27b7e6" stroke-width="1.2" stroke-linejoin="round"/>
<path d="M53.3 317.62 L54.03 317.51 L54.77 318 L55.5 317.98 L56.24 318.1 L56.97 317.76 L57.7 317.13 L58.44 317.73 L59.17 317.71 L59.91 317.65 L60.64 317.43 L61.35 317.91 L62.06 318.14 L62.77 317.26 L63.48 317.89 L64.19 317.57 L64.91 317.74 L65.62 318.16 L66.33 318.24 L67.04 317.9 L67.75 317.41 L68.46 318.22 L69.17 317.41 L69.88 317.64 L70.59 318.14 L71.3 317.58 L72.03 317.54 L72.76 318.3 L73.49 318.3 L74.22 317.61 L74.94 317.7 L75.67 317.59 L76.4 317.43 L77.13 317.57 L77.86 318.38 L78.58 317.4 L79.31 317.57 L80.04 317.55 L80.77 317.42 L81.5 317.92 L82.23 318.16 L82.95 318.28 L83.68 318.06 L84.42 318.27 L85.15 317.38 L85.88 317.69 L86.62 318.45 L87.35 317.48 L88.09 317.7 L88.82 317.94 L89.55 317.72 L90.29 318.03 L91.02 317.49 L91.76 317.7 L92.49 318.5 L93.23 317.62 L93.96 318.46 L94.69 317.67 L95.43 318.57 L96.16 318.23 L96.89 318.21 L97.63 317.66 L98.36 317.57 L99.09 318.35 L99.82 317.71 L100.55 317.74 L101.29 318.44 L102.02 318.5 L102.75 317.6 L103.48 318.61 L104.21 318.15 L104.94 317.99 L105.68 317.69 L106.41 318.01 L107.14 318.68 L107.85 317.9 L108.57 317.74 L109.28 317.77 L110 317.75 L110.71 318 L111.43 318.63 L112.14 317.71 L112.86 317.84 L113.57 318.67 L114.29 318.74 L115 318.73 L115.74 317.93 L116.48 318.06 L117.22 318.72 L117.96 318.22 L118.7 318.47 L119.44 318.05 L120.18 317.75 L120.93 318.13 L121.67 318.59 L122.41 318.67 L122.33 318.42 L122.13 318.2 L122.5 318.04 L123.3 317.64 L123.94 317.44 L124.46 317.37 L124.9 316.1 L125.3 315.69 L125.7 314.88 L125.88 313.96 L126.06 312.39 L126.21 312.22 L126.36 311.04 L126.44 309.53 L126.53 308.85 L126.61 308 L126.69 307.02 L126.77 307.23 L126.85 305.79 L126.94 305.5 L127.02 303.86 L127.11 302.95 L127.2 303.17 L127.3 302.35 L127.4 301.84 L127.56 300.59 L127.72 299.5 L127.88 298.98 L128.04 297.46 L128.2 297.19 L128.37 296.33 L128.55 295.17 L128.73 294.83 L128.93 293.49 L129.13 292.66 L129.29 291.63 L129.44 290.69 L129.6 289.84 L129.74 289.27 L129.87 288.84 L130.01 287.95 L130.15 287.02 L130.27 286.21 L130.39 284.81 L130.52 284.78 L130.64 283.22 L130.76 282.27 L130.87 281.96 L130.98 281.5 L131.09 280.34 L131.2 279.96 L131.31 278.84 L131.43 278.87 L131.54 277.55 L131.65 276.83 L131.76 276.13 L131.88 275.76 L131.99 275.13 L132.1 273.87 L132.21 273.02 L132.33 272.47 L132.44 271.11 L132.55 270.75 L132.66 270.46 L132.77 269.63 L132.88 268.12 L132.98 268.27 L133.09 267.04 L133.19 266.97 L133.3 265.57 L133.4 264.69 L133.5 264.34 L133.6 263.99 L133.7 262.77 L133.8 262.53 L133.9 261.64 L133.99 260.54 L134.09 259.73 L134.19 259.21 L134.29 258.35 L134.38 257.57 L134.48 257.13 L134.58 256.63 L134.67 255.57 L134.77 254.34 L134.86 253.68 L134.96 253.1 L135.05 252.62 L135.15 251.35 L135.24 250.57 L135.34 250.12 L135.43 249.36 L135.52 248.36 L135.62 248.2 L135.71 247.91 L135.82 246.69 L135.93 246.12 L136.04 245.42 L136.15 244.64 L136.26 243.93 L136.37 242.71 L136.48 242.28 L136.58 240.97 L136.69 241.11 L136.8 239.87 L136.93 239.24 L137.05 238.97 L137.18 237.57 L137.31 236.73 L137.47 236.6 L137.63 235.52 L137.79 234.12 L137.94 233.33 L138.1 232.97 L138.25 231.86 L138.49 231.81 L138.73 230.13 L138.98 229.35 L139.24 228.59 L139.52 227.87 L139.8 226.93 L140.1 226.34 L140.41 225.58 L140.73 224.62 L141.04 223.55 L141.38 223.89 L141.71 222.94 L142.42 221.13 L143.18 220.46 L144 219.78 L144.85 219.06 L145.72 217.13 L146.64 216.23 L147.64 216 L148.75 215.27 L150 215.23 L151.09 214.72 L151.93 213.85 L152.88 213.72 L153.59 213.81 L154.3 214.06 L155.05 213.27 L155.8 213.44 L156.55 213.06 L157.41 213.64 L158.28 212.94 L159.14 213.91 L160 213.43 L160.77 213.47 L161.54 212.92 L162.31 213.07 L163.08 213.32 L163.85 213.74 L164.62 213.37 L165.39 213.08 L166.11 213.85 L166.83 213.49 L167.55 213.34 L168.27 212.98 L168.99 213.09 L169.71 213.75 L170.43 212.9 L171.15 213.34 L171.87 213.43 L172.59 213.14 L173.32 213.59 L174.05 213.75 L174.78 213.69 L175.51 213.56 L176.24 212.98 L176.97 212.82 L177.7 213.23 L178.43 213.1 L179.16 212.97 L179.89 213.72 L180.62 213 L181.34 213.67 L182.06 213.8 L182.78 212.9 L183.5 213.78 L184.21 213.22 L184.93 213.02 L185.65 212.99 L186.37 212.83 L187.08 213.34 L187.8 213.22 L188.52 213.73 L189.27 213.72 L190.03 212.87 L190.78 213.25 L191.53 213.24 L192.29 213.01 L193.04 213.1 L193.79 213.12 L194.55 213.59 L195.3 213.21 L196.08 212.96 L196.87 213.08 L197.65 213.33 L198.43 213.47 L199.22 213.12 L200 213.62" fill="none" stroke="#27b7e6" stroke-width="1.2" stroke-linejoin="round"/>
<path d="M200 214.86 L199.25 215.39 L198.49 215.31 L197.74 214.78 L196.99 215.46 L196.23 215.02 L195.48 215.18 L194.77 215.24 L194.06 215.26 L193.35 215.03 L192.64 214.55 L191.93 215.42 L191.22 215.5 L190.51 215.04 L189.8 215.14 L189.09 214.76 L188.34 215.5 L187.59 215.23 L186.84 214.67 L186.09 215.37 L185.34 215.56 L184.59 214.78 L183.84 215.55 L183.09 214.92 L182.34 214.54 L181.59 215.18 L180.88 214.71 L180.17 215.18 L179.45 214.99 L178.74 214.4 L178.02 214.9 L177.31 215.27 L176.6 214.82 L175.88 214.88 L175.17 215.26 L174.45 214.75 L173.74 214.79 L173 214.89 L172.25 215.17 L171.51 214.41 L170.76 214.27 L170.02 215.06 L169.27 214.8 L168.53 214.49 L167.78 215.18 L167.04 215.16 L166.29 214.74 L165.5 215.26 L164.72 215.07 L163.93 214.95 L163.15 214.39 L162.36 214.05 L161.57 214.84 L160.79 214.89 L160 214.42 L159.24 214.56 L158.48 214.65 L157.72 214.26 L156.96 214.78 L156.2 214.61 L155.43 214.38 L154.67 214.04 L153.96 214.56 L153.24 214.26 L152.53 214.73 L151.81 214.05 L151.1 214.3 L150.38 214.05 L149.67 214.29 L148.9 214.47 L148.13 213.89 L147.36 213.81 L146.6 214.31 L145.83 213.95 L145.06 214.3 L144.24 213.88 L143.42 213.79 L142.59 214.3 L141.77 214.75 L140.94 214.67 L140.23 214.24 L139.53 214.1 L138.82 213.7 L138.11 213.95 L137.4 214 L136.67 214.77 L135.95 213.8 L135.22 214.82 L134.5 214.27 L133.48 214.28 L132.45 214.14 L131.23 215.11 L130.58 214.37 L130.24 215.13 L129.96 215.53 L129.5 215.84 L128.92 216.73 L128.44 218.64 L128.02 219.57 L127.82 220.18 L127.63 221.06 L127.43 220.88 L127.23 222.4 L127.02 223.38 L126.8 223.67 L126.64 224.64 L126.49 225.96 L126.33 225.88 L126.18 227.17 L126.02 227.22 L125.87 228.59 L125.71 228.96 L125.55 230.09 L125.39 230.77 L125.27 232.06 L125.15 232.6 L125.03 233.01 L124.91 233.92 L124.79 234.36 L124.66 235.57 L124.54 235.67 L124.41 236.77 L124.29 237.64 L124.16 238.22 L124.03 238.64 L123.9 239.6 L123.79 240.9 L123.68 241.12 L123.58 242.51 L123.47 242.94 L123.36 244.21 L123.25 244.9 L123.13 245.57 L123.02 245.96 L122.91 246.38 L122.8 247.81 L122.7 248.76 L122.6 249.69 L122.51 249.54 L122.41 250.21 L122.32 251.92 L122.22 252.35 L122.12 252.78 L122.02 253.82 L121.93 253.85 L121.83 255.06 L121.73 255.95 L121.64 256.61 L121.54 256.8 L121.44 257.5 L121.35 258.81 L121.25 259.85 L121.16 259.68 L121.06 260.25 L120.95 261.18 L120.84 262.85 L120.72 263.21 L120.61 264.12 L120.5 265.59 L120.39 265.95 L120.29 266.35 L120.18 267.69 L120.07 267.66 L119.96 268.81 L119.86 270.14 L119.76 270.34 L119.65 271 L119.55 272.41 L119.45 273.02 L119.35 274.61 L119.24 274.38 L119.14 276.04 L119.04 276.36 L118.94 277.68 L118.83 278.03 L118.73 279.08 L118.63 279.45 L118.52 280.11 L118.42 281.17 L118.31 282.3 L118.2 282.48 L118.09 283.06 L117.99 284 L117.88 284.34 L117.73 285.4 L117.59 286.5 L117.44 287.26 L117.3 288.12 L117.1 288.64 L116.9 289.21 L116.69 290.1 L116.49 291.23 L116.28 291.81 L116.07 293.01 L115.75 293.62 L115.43 295.19 L115.1 295.87 L114.76 296.82 L114.41 297.75 L114.05 298.33 L113.68 299.06 L113.3 299.77 L112.89 300.33 L112.49 302.07 L112.05 302.54 L111.62 302.88 L111.17 304.66 L110.71 305.02 L110.25 305.81 L109.79 306.32 L109.34 306.62 L108.88 308.35 L108.44 307.98 L108 308.84 L107.18 310.73 L106.42 310.69 L105.67 312.06 L104.88 312.85 L104 313.28 L103 314.71 L102.23 314.6 L101.8 314.5 L101.29 315.33 L100.27 314.97 L99.3 315.88 L98.32 316.15 L97.49 316.21 L96.66 315.21 L95.83 315.99 L95 315.57 L94.22 315.77 L93.43 315.57 L92.65 315.57 L91.87 315.37 L91.08 315.97 L90.3 315.32 L89.52 316.38 L88.77 315.26 L88.02 316.36 L87.28 315.43 L86.53 315.29 L85.78 316.07 L85.04 315.81 L84.29 316.09 L83.55 315.77 L82.8 315.91 L82.05 315.24 L81.35 315.94 L80.65 315.73 L79.95 316.26 L79.25 315.1 L78.55 315.16 L77.85 315.88 L77.15 316.17 L76.45 315.55 L75.75 315.89 L75.05 315.7 L74.35 315.48 L73.65 315.56 L72.9 315.71 L72.14 315.01 L71.39 315.32 L70.64 315.83 L69.88 315.24 L69.13 315.48 L68.37 315.2 L67.62 315.31 L66.87 315.65 L66.11 315.74 L65.36 315.99 L64.65 315.39 L63.93 315.05 L63.22 315.2 L62.51 314.85 L61.79 315.05 L61.08 315.45 L60.37 315.47 L59.65 315.01 L58.94 314.92 L58.23 314.81 L57.52 314.89 L56.82 315.27 L56.12 314.96 L55.41 315.7 L54.71 315.3 L54 315.02 L53.3 315.12" fill="none" stroke="#9be62f" stroke-width="1.3" stroke-linejoin="round"/>
<path d="M53.3 315.45 L54.04 316.29 L54.79 316.32 L55.53 315.86 L56.28 316.3 L57.02 315.77 L57.77 315.71 L58.51 315.73 L59.26 315.7 L60 316.2 L60.75 316.25 L61.5 316.36 L62.24 315.62 L62.99 316.42 L63.74 316.09 L64.48 315.98 L65.23 316.13 L65.98 316.06 L66.72 315.79 L67.47 316.03 L68.22 316.34 L68.96 316.43 L69.71 316.68 L70.42 315.82 L71.12 316.66 L71.83 316.56 L72.53 316.46 L73.24 316.79 L73.94 315.79 L74.65 316.56 L75.35 316.72 L76.06 315.79 L76.76 316.37 L77.47 316.8 L78.17 316.02 L78.88 316.7 L79.58 316.77 L80.29 316.21 L80.99 315.87 L81.71 315.97 L82.42 316.71 L83.14 316.23 L83.85 316.11 L84.57 316.27 L85.28 316.86 L85.99 316.06 L86.71 315.78 L87.42 316.91 L88.14 316.16 L88.85 316.25 L89.57 316.96 L90.28 316.14 L90.99 315.91 L91.71 316.88 L92.42 316.11 L93.15 316.1 L93.87 316.96 L94.6 316.12 L95.32 316.93 L96.05 316.26 L96.77 316.23 L97.49 316.13 L98.22 316.53 L98.94 316.56 L99.67 316.38 L100.39 316.51 L101.12 316.27 L101.84 316.93 L102.57 317.05 L103.31 316.84 L104.05 316.93 L104.8 316.03 L105.54 316.26 L106.28 316.21 L107.03 316.16 L107.77 317.14 L108.51 317.07 L109.26 317.09 L110 316.67 L110.75 316.15 L111.5 316.53 L112.25 316.1 L113 317.13 L113.75 316.37 L114.5 316.41 L115.39 317.23 L116.27 316.36 L117.16 317.26 L118.54 316.59 L119.19 317.03 L119.66 316.3 L120.5 317.08 L121.56 316.29 L122.39 316.05 L123.02 316.17 L123.55 315.67 L124.02 314.56 L124.5 313.35 L124.73 313.12 L124.96 311.69 L125.15 311.73 L125.33 310.12 L125.44 309.17 L125.55 308.62 L125.66 307.62 L125.76 307.08 L125.86 306.57 L125.96 305.63 L126.06 304.77 L126.16 303.95 L126.26 303.41 L126.37 303.05 L126.49 301.93 L126.6 301.62 L126.78 300.38 L126.96 299.05 L127.13 298.33 L127.3 298.37 L127.47 297.17 L127.65 296.29 L127.84 295.6 L128.02 295.15 L128.16 293.9 L128.3 293.19 L128.43 292.5 L128.59 291.19 L128.74 290.94 L128.9 289.97 L129.03 289.15 L129.17 288.25 L129.3 287.44 L129.44 286.88 L129.56 285.46 L129.68 285.63 L129.8 283.8 L129.92 283.91 L130.04 282.29 L130.14 282.31 L130.25 280.95 L130.36 280.01 L130.46 279.85 L130.57 279.48 L130.68 278.77 L130.78 278.06 L130.89 277.43 L131 275.56 L131.11 275.2 L131.22 274.12 L131.33 274.15 L131.44 273.03 L131.55 272.63 L131.65 271.94 L131.76 271.43 L131.87 270.29 L131.98 269.78 L132.08 268.66 L132.19 267.38 L132.29 267.63 L132.39 265.95 L132.5 265.22 L132.6 265.4 L132.7 264.02 L132.8 263.76 L132.9 262.28 L133 261.77 L133.1 261.66 L133.2 260.13 L133.3 259.95 L133.4 259.71 L133.5 258.09 L133.6 257.93 L133.7 257.23 L133.8 256.33 L133.89 255.76 L133.99 254.92 L134.09 253.35 L134.19 252.82 L134.29 252.48 L134.39 252.25 L134.48 250.63 L134.58 250.35 L134.68 249.08 L134.78 249.23 L134.87 248.02 L134.97 247.4 L135.08 246.78 L135.2 245.35 L135.31 245.27 L135.43 244.57 L135.54 243.85 L135.68 242.3 L135.82 241.39 L135.96 240.45 L136.1 240.48 L136.23 239.22 L136.36 238.47 L136.49 237.92 L136.63 237.43 L136.79 236.2 L136.95 235.45 L137.12 235.19 L137.36 234.22 L137.6 232.66 L137.85 231.53 L138.09 231.7 L138.36 230.66 L138.62 229.7 L138.91 228.68 L139.2 228.55 L139.52 227.14 L139.83 226.11 L140.17 225.27 L140.5 224.87 L140.85 224.53 L141.2 223.61 L141.93 223.13 L142.7 221.69 L143.5 220.45 L144.28 219.75 L145.04 218.84 L145.83 218.1 L146.71 217.28 L147.75 216.73 L149 216.19 L150.18 216.21 L151.19 215.16 L152.34 215.69 L153.16 215.04 L153.98 215.63 L154.8 214.66 L155.61 215.12 L156.42 215.04 L157.14 215.34 L157.85 214.71 L158.57 214.76 L159.28 214.58 L160 215.07 L160.78 215.08 L161.56 214.37 L162.34 214.57 L163.12 214.59 L163.89 215.48 L164.67 214.87 L165.45 214.99 L166.17 214.65 L166.89 215.09 L167.62 215.27 L168.34 215.09 L169.06 214.28 L169.78 214.8 L170.5 214.85 L171.22 214.32 L171.95 215.21 L172.67 214.63 L173.4 214.6 L174.13 215 L174.85 214.95 L175.58 214.84 L176.31 215.27 L177.04 214.86 L177.77 214.65 L178.5 214.31 L179.23 214.89 L179.96 214.66 L180.69 214.87 L181.4 214.64 L182.12 214.23 L182.83 214.27 L183.55 214.41 L184.26 214.33 L184.98 215.24 L185.69 214.92 L186.41 214.5 L187.12 215.07 L187.84 214.98 L188.56 214.29 L189.31 215.12 L190.06 214.49 L190.81 215.41 L191.56 214.38 L192.31 214.56 L193.06 214.51 L193.81 215.25 L194.56 215.19 L195.31 214.91 L196.09 214.39 L196.88 214.72 L197.66 215.05 L198.44 214.27 L199.22 215.31 L200 215.21" fill="none" stroke="#9be62f" stroke-width="1.3" stroke-linejoin="round"/>
<path d="M200 224.75 L199.15 224.54 L198.3 224.45 L197.45 224.72 L196.6 224.13 L195.79 224.15 L194.99 223.98 L194.19 224.01 L193.38 224.49 L192.58 223.91 L191.78 224.41 L191.07 224.11 L190.36 224.48 L189.66 224.37 L188.95 224.3 L188.24 224.41 L187.54 223.75 L186.83 223.91 L186.12 223.98 L185.39 224.01 L184.65 224.18 L183.91 224.33 L183.17 224.2 L182.44 224.33 L181.7 224.13 L180.96 223.84 L180.22 223.94 L179.43 224.11 L178.63 224.14 L177.84 223.76 L177.04 223.73 L176.24 223.91 L175.45 223.58 L174.65 224.08 L173.88 223.34 L173.1 223.83 L172.33 223.67 L171.55 223.41 L170.78 223.68 L170 223.58 L169.26 223.93 L168.52 223.84 L167.78 223.56 L167.04 223.76 L166.29 223.73 L165.49 223.11 L164.68 223.6 L163.88 223.56 L163.07 223.64 L162.35 223.41 L161.63 223.07 L160.91 222.87 L160.19 223.18 L159.29 222.75 L158.38 223.12 L157.48 222.9 L156.59 223.02 L155.7 222.56 L154.8 222.43 L154.1 222.84 L153.4 222.58 L152.7 222.28 L152 222.35 L151.25 222.16 L150.49 222.24 L149.74 222.05 L148.99 221.77 L148.21 222.22 L147.43 222.04 L146.66 221.83 L145.88 221.34 L145.11 221.16 L144.34 221.48 L143.56 221.44 L142.79 221.19 L142.06 220.73 L141.33 221.02 L140.6 220.74 L139.87 220.51 L138.99 220.54 L138.11 220.28 L137.23 220.3 L136.48 220.25 L135.74 220.31 L135 219.49 L134.13 219.67 L133.25 219.78 L132.57 219.33 L131.89 219.06 L130.81 218.89 L129.91 217.93 L129.11 218.38 L128.3 218.3 L127.52 218.42 L126.87 218.39 L126.31 218.97 L125.8 219.18 L125.31 220.5 L125.05 221.05 L124.8 222.35 L124.63 222.96 L124.47 223.42 L124.3 224.36 L124.15 224.97 L123.99 225.99 L123.84 226.6 L123.73 227.94 L123.62 228.64 L123.51 229.42 L123.4 229.65 L123.29 231.08 L123.18 231.27 L123.07 232.54 L122.96 233.32 L122.84 233.82 L122.73 234.96 L122.61 236.18 L122.5 236.82 L122.37 237.39 L122.25 238.61 L122.12 239.06 L122 240.32 L121.87 240.73 L121.73 241.27 L121.6 242.79 L121.46 242.87 L121.32 243.85 L121.18 245.08 L121.04 245.39 L120.9 246.55 L120.76 247.64 L120.61 248.27 L120.47 248.91 L120.33 250.08 L120.18 250.98 L120.03 251.63 L119.88 252.51 L119.73 253.12 L119.58 254.03 L119.43 255.34 L119.27 256.17 L119.12 256.24 L118.97 257.24 L118.81 258.1 L118.66 259.4 L118.5 259.76 L118.37 260.43 L118.24 261.59 L118.11 261.8 L117.99 263.14 L117.86 263.41 L117.72 264.49 L117.59 265.14 L117.45 265.37 L117.32 266.55 L117.19 266.97 L117.05 267.53 L116.91 268.11 L116.77 269.35 L116.64 269.96 L116.5 270.47 L116.36 271.58 L116.23 271.76 L116.09 272.65 L115.95 273.05 L115.81 273.95 L115.65 275.17 L115.48 275.66 L115.31 276.18 L115.14 277.03 L114.98 278.05 L114.82 278.44 L114.66 279.62 L114.5 279.65 L114.3 281.05 L114.1 281.61 L113.9 282.53 L113.62 283.09 L113.33 283.8 L113.06 284.69 L112.78 285.85 L112.5 286.09 L112.22 286.87 L111.93 288.1 L111.64 288.87 L111.32 289.57 L111 290.27 L110.67 290.77 L110.33 291.76 L109.99 292.3 L109.65 292.88 L109.29 293.44 L108.94 293.78 L108.56 294.47 L108.19 295.24 L107.78 296.05 L107.38 296.42 L106.94 297.74 L106.5 298.06 L106.04 298.87 L105.57 299.67 L105.09 299.85 L104.61 301.1 L104.1 301.86 L103.59 302.02 L103.05 302.56 L102.5 303.76 L101.9 304.4 L101.31 304.89 L100.65 305 L100 305.58 L98.84 305.71 L97.91 306.07 L96.89 306.28 L96.16 306.52 L95.44 305.97 L94.71 306.62 L93.98 305.87 L93.25 306.6 L92.44 306.01 L91.63 306.47 L90.81 306.46 L90 306.56 L89.29 306.18 L88.57 306.36 L87.86 306.03 L87.14 306.46 L86.43 305.88 L85.72 306.5 L85 306.27 L84.27 305.84 L83.53 306.53 L82.8 306.03 L82.06 305.82 L81.33 305.97 L80.59 305.77 L79.86 305.97 L79.12 306.31 L78.39 306.52 L77.65 306.23 L76.91 306.4 L76.18 306.36 L75.44 306.27 L74.71 306 L73.97 305.88 L73.23 305.8 L72.5 306.1 L71.76 305.82 L71.03 306.24 L70.3 305.89 L69.58 306.09 L68.86 306.05 L68.14 306.11 L67.41 305.72 L66.69 305.79 L65.97 306.13 L65.25 305.73 L64.53 306.09 L63.8 306.32 L63.03 305.84 L62.25 306.29 L61.48 306 L60.7 306.26 L59.93 305.91 L59.15 306.08 L58.38 306.01 L57.6 305.61 L56.88 305.86 L56.17 305.9 L55.45 305.8 L54.73 305.95 L54.02 306.14 L53.3 306.04" fill="none" stroke="#f0a030" stroke-width="1.1" stroke-linejoin="round"/>
<path d="M53.3 306.65 L54.08 306.12 L54.86 306.57 L55.63 306.51 L56.41 306.76 L57.19 306.01 L57.97 306.15 L58.75 306.8 L59.46 306.32 L60.17 306.58 L60.88 306.49 L61.6 306.34 L62.31 306.37 L63.02 306.47 L63.73 306.81 L64.44 306.44 L65.16 306.65 L65.87 306.26 L66.58 306.59 L67.28 306.5 L67.99 306.62 L68.69 306.73 L69.39 306.09 L70.09 306.8 L70.8 306.51 L71.5 306.23 L72.2 306.4 L72.9 306.1 L73.61 306.21 L74.31 306.7 L75.01 306.6 L75.71 306.72 L76.43 306.17 L77.15 306.13 L77.87 306.35 L78.59 306.44 L79.3 306.62 L80.02 306.29 L80.74 306.65 L81.46 306.53 L82.18 306.3 L82.9 306.7 L83.62 306.13 L84.33 306.55 L85.05 306.23 L85.76 306.13 L86.46 306.48 L87.17 306.53 L87.87 306.61 L88.58 306.43 L89.28 306.88 L89.99 306.78 L90.69 306.28 L91.4 306.17 L92.1 306.95 L92.81 306.51 L93.51 306.28 L94.23 306.36 L94.95 306.8 L95.67 306.41 L96.39 306.58 L97.12 306.85 L97.84 306.61 L98.56 306.88 L99.28 307.14 L100 307.03 L100.73 306.96 L101.46 307.01 L102.19 306.81 L102.92 307.13 L103.65 307.19 L104.38 307.19 L105.16 307.22 L105.93 307.54 L106.71 307.21 L107.49 307.72 L108.23 308.09 L108.98 307.5 L109.72 307.84 L110.59 308.68 L111.46 308.22 L112.27 309.06 L113.09 309.12 L114.04 308.93 L115 309.6 L115.73 309.26 L116.46 310.1 L117.19 309.82 L117.9 310.5 L118.62 310.66 L119.33 310.24 L120.01 310.63 L120.69 310.61 L121.38 311.27 L122.31 310.96 L123.24 311.16 L124.06 311.31 L124.88 312.03 L126.2 311.5 L127.14 311.22 L127.72 310.76 L128.06 310.09 L128.28 309.07 L128.49 308.47 L128.8 306.87 L129.19 305.72 L129.37 305.3 L129.55 304.08 L129.72 303.23 L129.9 302.98 L130.08 301.75 L130.25 301.4 L130.43 300.55 L130.61 299.39 L130.81 298.61 L131 297.68 L131.4 297.1 L131.79 295.84 L132.19 294.87 L132.62 293.63 L132.85 292.88 L133.09 292.6 L133.26 291.24 L133.43 290.81 L133.6 290.1 L133.75 289.22 L133.89 288.41 L134.04 287.53 L134.19 286.57 L134.32 286.3 L134.45 285.58 L134.58 284.53 L134.71 283.51 L134.84 283.26 L134.95 281.96 L135.07 281.21 L135.18 280.84 L135.3 280.28 L135.41 279.35 L135.52 278.25 L135.64 278.18 L135.76 276.75 L135.87 276.14 L135.99 275.89 L136.1 274.96 L136.22 274.17 L136.33 272.86 L136.44 272.71 L136.55 271.58 L136.66 270.51 L136.78 270.36 L136.89 269.71 L136.99 268.27 L137.09 267.87 L137.19 267.5 L137.3 266.32 L137.4 265.57 L137.5 265.22 L137.59 264.23 L137.68 263.95 L137.77 263.11 L137.86 262.39 L137.96 261.54 L138.05 260.4 L138.13 260.04 L138.21 259.19 L138.3 258.35 L138.38 257.65 L138.46 256.68 L138.55 255.83 L138.63 255.64 L138.71 254.44 L138.79 253.47 L138.87 253.41 L138.95 252.27 L139.03 251.64 L139.1 250.65 L139.18 249.77 L139.26 249.19 L139.34 248.87 L139.42 247.69 L139.5 247.48 L139.59 246.21 L139.69 245.9 L139.79 244.55 L139.88 243.98 L139.98 242.94 L140.11 242.15 L140.24 241.64 L140.37 240.7 L140.5 240.03 L140.67 238.95 L140.83 238.2 L141 237.38 L141.23 236.91 L141.46 235.32 L141.7 234.88 L141.94 234.52 L142.48 233.15 L143.15 231.88 L144 231.4 L144.51 230.16 L145.02 229.65 L145.58 229.11 L146.15 229 L146.78 228.95 L147.41 228.09 L148.1 227.74 L148.8 227.8 L149.56 226.89 L150.33 226.5 L151.16 226.67 L152 225.87 L152.9 225.88 L153.8 225.23 L154.75 225.27 L155.7 225.14 L156.39 224.61 L157.07 224.26 L157.75 224.34 L158.49 224.2 L159.23 223.49 L159.96 223.43 L160.77 223.35 L161.57 223.26 L162.37 222.88 L163.25 223 L164.12 222.49 L165 222.82 L165.75 222.24 L166.49 222 L167.24 221.75 L167.99 221.65 L168.82 221.59 L169.66 221.99 L170.5 221.49 L171.33 221.38 L172.04 221.69 L172.75 221.59 L173.46 221.33 L174.17 220.81 L174.88 220.77 L175.59 220.82 L176.3 220.52 L177.02 220.5 L177.73 220.29 L178.44 220.22 L179.3 220.5 L180.16 220.27 L181.02 220.03 L181.88 219.93 L182.66 219.93 L183.44 219.87 L184.22 219.23 L185 219.77 L185.74 219.34 L186.48 219.11 L187.22 219.47 L187.96 219.17 L188.7 218.69 L189.44 218.27 L190.19 218.44 L190.93 218.28 L191.63 218.08 L192.34 217.7 L193.04 217.93 L193.75 217.52 L194.6 217.76 L195.45 217.42 L196.3 217.07 L197.01 217.43 L197.72 217.05 L198.43 216.69 L199.21 216.94 L200 216.84 L200.87 217.88 L201.11 219.49 L201.02 220.26 L200.94 220.78 L200.75 221.14 L200.56 221.97 L200.17 223.27 L200 224.3" fill="none" stroke="#f0a030" stroke-width="1.1" stroke-linejoin="round"/>
<path d="M200 232.1 L199.14 231.64 L198.28 231.94 L197.41 231.86 L196.55 232 L195.75 232.09 L194.95 231.77 L194.15 231.9 L193.35 231.65 L192.55 231.75 L191.76 231.86 L191.05 231.43 L190.34 231.74 L189.63 231.71 L188.92 231.46 L188.21 231.49 L187.5 231.87 L186.8 231.52 L186.09 231.39 L185.33 231.43 L184.57 231.56 L183.81 231.45 L183.05 231.38 L182.3 231.33 L181.54 231.23 L180.78 231.4 L180.02 231.44 L179.27 231.03 L178.53 231.34 L177.78 231.1 L177.03 231.52 L176.28 231.45 L175.53 230.84 L174.78 231.19 L174.03 230.9 L173.26 230.67 L172.48 231.13 L171.71 231.08 L170.93 230.92 L170.15 230.74 L169.38 230.91 L168.6 230.54 L167.87 230.52 L167.14 230.4 L166.41 230.45 L165.68 230.34 L164.95 229.86 L164.22 229.69 L163.49 229.82 L162.74 229.73 L161.99 229.43 L161.25 229.66 L160.5 229.53 L159.76 229.29 L159.01 229.06 L158.27 229.04 L157.53 228.55 L156.8 228.83 L156.06 228.21 L155.33 228.61 L154.59 228.27 L153.86 227.89 L153.12 227.68 L152.43 227.82 L151.73 227.57 L151.03 227.58 L150.34 227.01 L149.64 227.41 L148.94 226.94 L148.24 226.8 L147.51 226.83 L146.77 226.56 L146.03 226.28 L145.29 225.99 L144.55 225.94 L143.81 225.46 L143.05 225.42 L142.28 225.62 L141.52 224.93 L140.76 224.71 L140 225.04 L139.21 224.46 L138.41 224.32 L137.62 224.12 L136.83 223.96 L136.16 223.42 L135.49 223.47 L134.82 222.66 L134.15 222.99 L133.4 222.26 L132.66 222.13 L131.91 221.56 L130.99 221.38 L130.07 220.63 L129.33 220.38 L128.59 219.77 L127.4 219.53 L127.27 219.7 L127.11 219.47 L126.92 220.12 L126.67 220.71 L126.37 221 L126 222.18 L125.77 223.61 L125.54 224.53 L125.37 224.73 L125.19 225.96 L125.01 226.85 L124.81 227.27 L124.61 228.52 L124.41 229.06 L124.25 230.1 L124.1 230.6 L123.94 231.26 L123.78 231.71 L123.57 232.97 L123.35 233.89 L123.14 234.5 L122.92 235.11 L122.71 235.93 L122.5 236.83 L122.29 238.02 L122.08 238.52 L121.87 239.31 L121.55 240.14 L121.23 240.64 L120.9 241.7 L120.57 242.98 L120.23 243.77 L119.9 244.74 L119.55 245.5 L119.21 246.3 L118.85 247.26 L118.5 248.29 L118.15 248.88 L117.8 249.53 L117.45 250.63 L117.11 251.33 L116.75 252.42 L116.4 253.56 L116.02 254.31 L115.65 255.27 L115.37 255.87 L115.1 256.77 L114.82 257.59 L114.52 258.45 L114.21 259.5 L113.9 259.7 L113.64 260.54 L113.39 261.13 L113.13 262.44 L112.88 262.94 L112.6 263.77 L112.33 264.69 L112.05 264.93 L111.78 266.37 L111.54 266.66 L111.31 267.56 L111.07 268.09 L110.84 269.02 L110.61 269.39 L110.36 270.06 L110.11 270.73 L109.86 271.75 L109.61 272.25 L109.37 272.72 L109.04 273.67 L108.71 274.62 L108.39 275.29 L108.06 276.25 L107.72 277.13 L107.38 277.69 L107.04 278.51 L106.7 278.86 L106.34 279.86 L105.99 280.51 L105.63 280.83 L105.27 281.07 L104.77 281.84 L104.27 283.03 L103.77 283.83 L103.25 284.38 L102.73 284.88 L102.21 285.56 L101.67 285.86 L101.13 286.79 L100.59 287.66 L100.04 287.66 L99.48 288.49 L98.92 289.2 L98.35 289.58 L97.77 289.88 L97.2 290.32 L96.62 291.14 L96.04 291.76 L95.46 292.2 L94.88 292.3 L94.29 292.97 L93.7 293.45 L93.1 293.53 L92.5 294.19 L91.89 294.31 L91.26 294.52 L90.63 294.72 L90 295.57 L89.32 295.88 L88.65 295.67 L87.98 295.97 L87.25 296.39 L86.53 296.56 L85.8 297.16 L85.01 296.96 L84.22 297.41 L83.43 297.56 L82.59 297.52 L81.74 297.98 L80.89 297.8 L80.01 297.91 L79.12 298.07 L78.23 297.95 L77.32 297.82 L76.41 298.38 L75.5 298.27 L74.58 298.14 L73.66 298.12 L72.74 298.22 L71.82 298.01 L70.91 297.88 L70 298.23 L69.27 298.49 L68.54 297.95 L67.81 298.58 L67.08 298.17 L66.28 298.61 L65.48 298.45 L64.68 298.1 L63.88 298.06 L63.08 298.52 L62.27 298.58 L61.47 298.45 L60.66 298.28 L59.91 298.24 L59.16 298.4 L58.41 298.41 L57.66 298.41 L56.82 298.01 L55.97 298.37 L55.13 298.44 L54.21 298.17 L53.3 297.76" fill="none" stroke="#e3262a" stroke-width="1.1" stroke-linejoin="round"/>
<path d="M53.3 298.51 L54.05 298.78 L54.8 298.64 L55.55 298.92 L56.3 298.75 L57.05 298.77 L57.81 298.43 L58.58 298.64 L59.34 298.74 L60.11 298.85 L60.87 298.83 L61.64 298.43 L62.4 298.56 L63.19 298.84 L63.97 298.29 L64.75 298.27 L65.53 298.32 L66.32 298.64 L67.1 298.39 L67.88 298.61 L68.66 298.67 L69.38 298.65 L70.1 298.18 L70.81 298.56 L71.53 298.62 L72.25 298.56 L72.97 298.65 L73.68 298.62 L74.4 298.49 L75.12 298.63 L75.86 298.45 L76.61 298.19 L77.35 298.3 L78.09 298.69 L78.84 298.34 L79.58 298.42 L80.32 298.66 L81.07 298.56 L81.86 298.64 L82.64 298.48 L83.43 298.53 L84.22 298.29 L85.01 298.39 L85.8 298.39 L86.65 298.7 L87.51 298.76 L88.36 298.57 L89.22 298.98 L90.1 298.79 L90.98 299.1 L91.86 299.02 L92.57 299.45 L93.28 299.42 L93.99 300.06 L94.94 299.98 L95.89 300.54 L96.84 300.59 L97.8 300.81 L98.53 301.32 L99.27 301.17 L100 301.51 L100.83 301.78 L101.67 302.19 L102.5 302.22 L103.36 302.04 L104.22 302.49 L105.08 303 L105.95 303.17 L106.82 303.1 L107.69 303.18 L108.54 303.49 L109.4 304.01 L110.25 303.9 L111.07 304.56 L111.89 304.42 L112.71 304.91 L113.47 305.14 L114.24 305.11 L115 305.51 L115.74 305.83 L116.48 305.88 L117.22 306.29 L117.95 306.64 L118.69 307.12 L119.43 307 L120.13 307.22 L120.83 307.71 L121.54 308.06 L122.49 308.4 L123.44 309.06 L124.23 308.98 L125.03 309.51 L126.2 309.98 L126.42 309.42 L126.71 309.05 L127.07 308.41 L127.49 307.63 L127.96 307.05 L128.5 306.29 L129.11 305.32 L129.78 303.83 L130.52 302.8 L130.91 302.54 L131.31 301.42 L131.72 300.77 L132.14 300.11 L132.57 299.96 L133 299 L133.47 298.25 L133.94 297.35 L134.45 297.1 L134.96 296.44 L135.5 295.5 L136.03 294.87 L136.56 293.83 L137.09 292.85 L137.43 292.15 L137.76 291.61 L138.1 290.9 L138.4 290.33 L138.7 289.43 L139 288.72 L139.26 288.44 L139.52 287.61 L139.78 286.8 L140.01 285.64 L140.23 284.81 L140.46 283.99 L140.62 283.43 L140.78 282.43 L140.94 281.84 L141.09 281.15 L141.25 280.59 L141.4 279.55 L141.55 278.59 L141.7 278.09 L141.86 277.61 L142.02 276.42 L142.17 275.93 L142.33 274.87 L142.5 274.18 L142.66 273.62 L142.83 272.53 L143 271.97 L143.18 271.24 L143.35 270.31 L143.53 269.71 L143.7 268.96 L143.84 267.92 L143.98 267.51 L144.12 266.81 L144.26 266.01 L144.4 265.31 L144.55 264.59 L144.69 263.97 L144.83 263.23 L144.98 262.26 L145.12 261.78 L145.27 261.11 L145.42 260.26 L145.57 259.82 L145.71 258.77 L145.86 258.22 L146.06 257.41 L146.26 256.61 L146.45 255.54 L146.65 255.01 L146.86 253.95 L147.08 253.47 L147.29 252.7 L147.5 252.12 L147.8 251.38 L148.1 250.61 L148.4 249.32 L148.71 248.98 L149.03 247.97 L149.34 247.24 L149.67 246.29 L150 246.11 L150.33 245.06 L150.67 244.47 L151.01 243.87 L151.36 243.21 L151.9 242.38 L152.45 241.52 L153.02 240.84 L153.6 239.92 L154.16 239.36 L154.72 238.67 L155.25 237.92 L155.77 236.84 L156.33 236.34 L156.89 235.68 L157.53 235.07 L158.17 234.27 L158.95 233.63 L159.74 233.46 L160.39 233.13 L161.05 232.68 L161.7 232.6 L162.51 232.07 L163.33 232.32 L164.14 232.21 L164.85 232.19 L165.56 231.62 L166.27 231.9 L166.98 231.89 L167.76 231.49 L168.54 231.75 L169.33 231.48 L170.11 231.48 L170.93 231.38 L171.75 231.54 L172.57 231.89 L173.4 231.74 L174.23 231.89 L175.06 232.01 L175.9 231.54 L176.73 231.98 L177.55 232.01 L178.37 231.87 L179.18 231.69 L180 231.61 L180.87 231.77 L181.73 231.73 L182.6 231.67 L183.47 231.92 L184.23 231.92 L184.99 231.71 L185.76 231.67 L186.52 231.88 L187.28 232.02 L188.05 232.02 L188.83 232.02 L189.6 232.2 L190.37 232.14 L191.14 231.97 L191.87 232.18 L192.59 232.15 L193.31 231.98 L194.03 231.9 L194.75 232.05 L195.51 232.28 L196.28 232.33 L197.04 232.09 L197.8 232.26 L198.54 232 L199.27 232.34 L200 232.27" fill="none" stroke="#e3262a" stroke-width="1.1" stroke-linejoin="round"/>
<path d="M200 255.79 L199.19 255.8 L198.38 255.19 L197.64 255.79 L196.9 255.19 L196.16 255.71 L195.28 255.68 L194.4 255.09 L193.53 255.09 L192.81 254.94 L192.09 255.42 L191.38 255.27 L190.66 255.36 L189.93 255.18 L189.21 254.8 L188.48 255.02 L187.75 254.66 L186.84 254.52 L185.92 254.47 L185 254.54 L184.12 254.13 L183.25 254.15 L182.37 254.01 L181.49 254 L180.6 253.61 L179.72 253.41 L178.82 253.32 L177.92 253.06 L177.02 253.06 L176.34 252.46 L175.65 252.35 L174.97 252.09 L174.28 252.18 L173.58 252.3 L172.88 251.93 L172.18 251.77 L171.48 251.79 L170.76 251.49 L170.04 250.9 L169.32 250.63 L168.6 250.63 L167.87 250.16 L167.14 250.17 L166.41 249.56 L165.68 249.54 L164.94 249.5 L164.21 248.9 L163.47 248.56 L162.73 248.71 L161.98 248.03 L161.23 248.23 L160.48 247.73 L159.72 247.63 L158.95 247.05 L158.17 246.7 L157.4 246.21 L156.62 245.74 L155.98 246.08 L155.33 245.28 L154.68 244.89 L154.04 245.2 L153.39 244.63 L152.71 244.34 L152.03 244.26 L151.36 243.8 L150.68 243.15 L150 242.85 L149.36 242.78 L148.71 242.47 L148.07 241.82 L147.42 241.51 L146.78 241.37 L146.13 240.72 L145.5 240.91 L144.88 240.47 L144.25 239.78 L143.63 239.74 L143 239.41 L142.37 238.72 L141.75 238.62 L141.1 238.52 L140.46 237.93 L139.82 237.76 L139.17 237.06 L138.53 237.24 L137.88 236.65 L137.24 236.22 L136.53 235.43 L135.82 235.28 L135.11 234.63 L134.4 234.54 L133.69 233.95 L132.99 233.6 L132.26 233.24 L131.54 232.72 L130.82 232.41 L130.1 232.15 L129.38 231.48 L128.73 231.42 L128.09 231.33 L127.44 230.82 L126.8 230.62 L126.34 230.56 L125.87 231.48 L125.41 231.71 L124.93 232.75 L124.45 233 L123.97 233.7 L123.49 234.29 L122.92 234.5 L122.35 235.13 L121.78 236.28 L121.21 236.94 L120.72 237.23 L120.23 237.51 L119.74 238.07 L119.25 239.18 L118.76 239.67 L118.26 240.01 L117.77 240.79 L117.28 241.45 L116.79 241.45 L116.29 242.53 L115.72 243.36 L115.15 243.94 L114.57 244.61 L114 244.96 L113.46 245.71 L112.92 246 L112.39 247.11 L111.85 247.65 L111.31 248.12 L110.77 248.52 L110.23 249.27 L109.69 250.08 L109.15 251.09 L108.61 251.43 L108.07 252.36 L107.53 252.54 L106.99 253.23 L106.45 253.86 L105.91 254.53 L105.36 255.53 L104.82 255.84 L104.27 256.41 L103.73 257.28 L103.19 257.72 L102.64 258.58 L102.09 259.02 L101.55 259.67 L101 259.95 L100.44 260.45 L99.88 261.01 L99.32 261.91 L98.76 262.4 L98.18 262.64 L97.61 263.09 L97.03 263.29 L96.46 264.34 L95.88 264.64 L95.3 264.97 L94.72 265.27 L94.14 265.95 L93.58 266.54 L93.01 266.67 L92.44 267.09 L91.88 267.69 L91.16 268.19 L90.43 268.35 L89.71 268.9 L89.04 269.55 L88.37 270.22 L87.7 270.42 L87.08 270.5 L86.47 271 L85.85 271.3 L84.98 272.08 L84.12 272.09 L83.3 272.9 L82.49 272.7 L81.71 272.84 L80.94 272.94 L80.19 273.45 L79.45 273.65 L78.72 274.02 L78 274.12 L76.73 274.35 L75.7 274.25 L74.72 275.02 L73.64 274.66 L72.29 274.74 L71.39 274.73 L70.5 275.06 L69.67 275.12 L68.83 274.9 L68 274.88 L67.21 274.7 L66.42 275.11 L65.64 275.19 L64.85 274.78 L63.99 274.86 L63.14 275.2 L62.29 275.17 L61.43 274.76 L60.6 275.34 L59.77 275.14 L58.95 275.13 L58.12 274.84 L57.41 275.28 L56.7 274.9 L55.99 275.03 L55.28 275.26 L54.29 275.15 L53.3 274.67" fill="none" stroke="#a01515" stroke-width="1.2" stroke-linejoin="round"/>
<path d="M53.3 275.34 L54.25 275.41 L55.2 275.37 L56.09 275.91 L56.97 275.68 L57.86 275.64 L58.64 275.57 L59.43 275.67 L60.21 275.63 L60.99 275.85 L61.83 275.65 L62.66 275.99 L63.5 276 L64.33 276.04 L65.14 276 L65.96 275.65 L66.78 275.87 L67.59 276.21 L68.32 275.95 L69.05 276.19 L69.77 276.02 L70.5 276.53 L71.37 276.35 L72.23 276.53 L73.1 277.02 L73.94 276.72 L74.78 276.87 L75.62 277.38 L76.43 277.64 L77.25 277.65 L78.06 278.09 L78.85 278.61 L79.65 278.95 L80.44 279.24 L81.21 279.42 L81.98 279.18 L82.75 279.65 L83.5 279.96 L84.25 279.92 L85 280.7 L85.72 280.58 L86.44 281.17 L87.16 281.33 L87.84 281.28 L88.53 281.56 L89.21 281.87 L89.88 281.92 L90.54 282.03 L91.21 282.55 L91.86 282.66 L92.52 282.92 L93.17 283.54 L93.84 283.77 L94.5 283.81 L95.16 283.8 L95.84 284.6 L96.52 284.54 L97.2 284.72 L97.9 285.49 L98.59 285.91 L99.29 285.77 L99.98 286.31 L100.68 286.88 L101.38 286.96 L102.09 287.19 L102.79 287.41 L103.49 287.67 L104.21 288.64 L104.92 288.96 L105.63 288.89 L106.35 289.6 L107.07 289.67 L107.8 290.45 L108.53 290.6 L109.27 291.23 L110 291.52 L110.79 291.66 L111.58 292.46 L112.37 292.98 L113.01 292.94 L113.65 293.32 L114.29 293.87 L114.93 294.57 L115.57 295.14 L116.22 295.17 L116.87 295.86 L117.51 296.15 L118.13 296.23 L118.74 296.74 L119.36 297.4 L119.97 297.53 L120.7 298.01 L121.43 298.61 L122.16 298.67 L123.03 299.43 L123.9 300.01 L124.53 300.44 L125.16 300.92 L126.06 301.18 L126.67 301.71 L127.09 301.98 L127.4 301.93 L127.7 302.6 L128.38 301.96 L129.06 300.93 L129.54 300.3 L130.02 299.74 L130.5 299.27 L130.97 298.69 L131.54 298 L132.1 297.85 L132.66 296.82 L133.22 296.09 L133.7 295.87 L134.18 294.88 L134.66 294.59 L135.14 294.2 L135.61 293.85 L136.08 292.96 L136.55 292.26 L137.01 292.37 L137.48 291.17 L137.94 290.93 L138.46 290.4 L138.97 290.14 L139.49 289.1 L140 288.42 L140.45 287.91 L140.89 287.42 L141.34 286.72 L141.78 286.7 L142.33 285.72 L142.89 285.16 L143.44 284.13 L143.97 283.7 L144.51 283.18 L145.04 282 L145.57 281.81 L146.1 280.65 L146.63 280.26 L147.17 279.73 L147.72 278.71 L148.26 278.35 L148.84 277.29 L149.42 276.64 L150 276.3 L150.47 275.54 L150.95 274.63 L151.42 274.17 L151.89 273.91 L152.39 273.23 L152.9 272.49 L153.4 272.48 L153.9 271.59 L154.41 271.46 L154.93 270.54 L155.44 269.87 L155.96 269.5 L156.46 269.27 L156.97 268.81 L157.48 268.06 L157.99 267.32 L158.63 266.89 L159.28 266.08 L159.93 265.52 L160.52 264.73 L161.11 264.2 L161.7 264.3 L162.48 263.52 L163.26 262.49 L163.96 262.2 L164.66 261.25 L165.31 261.34 L165.96 260.72 L166.59 260.4 L167.23 259.81 L167.9 259.46 L168.56 259.38 L169.28 258.7 L170 258.2 L170.73 257.93 L171.45 258.2 L172.14 257.51 L172.84 257.11 L173.55 257.26 L174.27 256.76 L175.07 256.8 L175.86 256.88 L176.8 256.37 L177.73 256.37 L178.49 256.65 L179.24 256.53 L180 256.46 L180.75 255.84 L181.49 256.45 L182.24 256.12 L182.99 255.8 L183.72 256.37 L184.46 255.75 L185.19 256.34 L185.93 255.66 L186.67 255.68 L187.46 255.95 L188.25 256.04 L189.04 256.02 L189.83 256.18 L190.62 255.68 L191.39 256.12 L192.15 255.84 L192.92 256.29 L193.68 256.06 L194.44 256.11 L195.26 255.72 L196.08 256.28 L196.89 255.84 L197.71 255.79 L198.47 255.94 L199.24 256.2 L200 255.88" fill="none" stroke="#a01515" stroke-width="1.2" stroke-linejoin="round"/>
<rect x="149" y="306.8" width="49.5" height="6.1" fill="#6e2ec8"/>
<path d="M174.2 332.3 V276" stroke="#e3262a" stroke-width="1.3" fill="none"/>
<path d="M171.9 278 L174.2 271.4 L176.5 278 Z" fill="#e3262a"/>
<path d="M162.3 331 L192.6 278.2" stroke="#e3262a" stroke-width="1.3" fill="none"/>
<path d="M190.2 278.4 L195.2 273.6 L194.2 280.6 Z" fill="#e3262a"/>
<path d="M174.2 294 Q180 295 182.4 289.5" stroke="#e3262a" stroke-width="1" fill="none"/>
<text transform="translate(180.6 285.4) scale(1.0 1)" font-size="10.5" text-anchor="middle" font-weight="normal" fill="#e3262a" >θ</text>
<text transform="translate(195.4 290.5) scale(1.0 1)" font-size="10.5" text-anchor="middle" font-weight="normal" fill="#e3262a" >B</text>
<rect x="259.1" y="11.1" width="169.2" height="328.1" fill="none" stroke="#2a2a2a" stroke-width="1.1"/>
<path d="M259.1 339.2 v-2.4 M259.1 11.1 v2.4 M276.02 339.2 v-2.4 M276.02 11.1 v2.4 M292.94 339.2 v-2.4 M292.94 11.1 v2.4 M309.86 339.2 v-2.4 M309.86 11.1 v2.4 M326.78 339.2 v-2.4 M326.78 11.1 v2.4 M343.7 339.2 v-2.4 M343.7 11.1 v2.4 M360.62 339.2 v-2.4 M360.62 11.1 v2.4 M377.54 339.2 v-2.4 M377.54 11.1 v2.4 M394.46 339.2 v-2.4 M394.46 11.1 v2.4 M411.38 339.2 v-2.4 M411.38 11.1 v2.4 M428.3 339.2 v-2.4 M428.3 11.1 v2.4 M267.56 339.2 v-1.4 M267.56 11.1 v1.4 M284.48 339.2 v-1.4 M284.48 11.1 v1.4 M301.4 339.2 v-1.4 M301.4 11.1 v1.4 M318.32 339.2 v-1.4 M318.32 11.1 v1.4 M335.24 339.2 v-1.4 M335.24 11.1 v1.4 M352.16 339.2 v-1.4 M352.16 11.1 v1.4 M369.08 339.2 v-1.4 M369.08 11.1 v1.4 M386 339.2 v-1.4 M386 11.1 v1.4 M402.92 339.2 v-1.4 M402.92 11.1 v1.4 M419.84 339.2 v-1.4 M419.84 11.1 v1.4 M259.1 326.18 h2.4 M428.3 326.18 h-2.4 M259.1 301.2 h2.4 M428.3 301.2 h-2.4 M259.1 276.22 h2.4 M428.3 276.22 h-2.4 M259.1 251.24 h2.4 M428.3 251.24 h-2.4 M259.1 226.25 h2.4 M428.3 226.25 h-2.4 M259.1 201.27 h2.4 M428.3 201.27 h-2.4 M259.1 176.29 h2.4 M428.3 176.29 h-2.4 M259.1 151.31 h2.4 M428.3 151.31 h-2.4 M259.1 126.33 h2.4 M428.3 126.33 h-2.4 M259.1 101.35 h2.4 M428.3 101.35 h-2.4 M259.1 76.36 h2.4 M428.3 76.36 h-2.4 M259.1 51.38 h2.4 M428.3 51.38 h-2.4 M259.1 26.4 h2.4 M428.3 26.4 h-2.4 M259.1 338.67 h1.4 M428.3 338.67 h-1.4 M259.1 313.69 h1.4 M428.3 313.69 h-1.4 M259.1 288.71 h1.4 M428.3 288.71 h-1.4 M259.1 263.73 h1.4 M428.3 263.73 h-1.4 M259.1 238.75 h1.4 M428.3 238.75 h-1.4 M259.1 213.76 h1.4 M428.3 213.76 h-1.4 M259.1 188.78 h1.4 M428.3 188.78 h-1.4 M259.1 163.8 h1.4 M428.3 163.8 h-1.4 M259.1 138.82 h1.4 M428.3 138.82 h-1.4 M259.1 113.84 h1.4 M428.3 113.84 h-1.4 M259.1 88.85 h1.4 M428.3 88.85 h-1.4 M259.1 63.87 h1.4 M428.3 63.87 h-1.4 M259.1 38.89 h1.4 M428.3 38.89 h-1.4 M259.1 13.91 h1.4 M428.3 13.91 h-1.4" stroke="#2a2a2a" stroke-width="0.9" fill="none"/>
<text transform="translate(258.4 348.65) scale(0.88 1)" font-size="8.4" text-anchor="middle" font-weight="bold" fill="#111" stroke="#111" stroke-width="0.22" >-10</text>
<text transform="translate(275.32 348.65) scale(0.88 1)" font-size="8.4" text-anchor="middle" font-weight="bold" fill="#111" stroke="#111" stroke-width="0.22" >-8</text>
<text transform="translate(292.24 348.65) scale(0.88 1)" font-size="8.4" text-anchor="middle" font-weight="bold" fill="#111" stroke="#111" stroke-width="0.22" >-6</text>
<text transform="translate(309.16 348.65) scale(0.88 1)" font-size="8.4" text-anchor="middle" font-weight="bold" fill="#111" stroke="#111" stroke-width="0.22" >-4</text>
<text transform="translate(326.08 348.65) scale(0.88 1)" font-size="8.4" text-anchor="middle" font-weight="bold" fill="#111" stroke="#111" stroke-width="0.22" >-2</text>
<text transform="translate(343.7 348.65) scale(0.88 1)" font-size="8.4" text-anchor="middle" font-weight="bold" fill="#111" stroke="#111" stroke-width="0.22" >0</text>
<text transform="translate(360.62 348.65) scale(0.88 1)" font-size="8.4" text-anchor="middle" font-weight="bold" fill="#111" stroke="#111" stroke-width="0.22" >2</text>
<text transform="translate(377.54 348.65) scale(0.88 1)" font-size="8.4" text-anchor="middle" font-weight="bold" fill="#111" stroke="#111" stroke-width="0.22" >4</text>
<text transform="translate(394.46 348.65) scale(0.88 1)" font-size="8.4" text-anchor="middle" font-weight="bold" fill="#111" stroke="#111" stroke-width="0.22" >6</text>
<text transform="translate(411.38 348.65) scale(0.88 1)" font-size="8.4" text-anchor="middle" font-weight="bold" fill="#111" stroke="#111" stroke-width="0.22" >8</text>
<text transform="translate(428.3 348.65) scale(0.88 1)" font-size="8.4" text-anchor="middle" font-weight="bold" fill="#111" stroke="#111" stroke-width="0.22" >10</text>
<text transform="translate(255.6 329.03) scale(0.88 1)" font-size="8.4" text-anchor="end" font-weight="bold" fill="#111" stroke="#111" stroke-width="0.22" >-50</text>
<text transform="translate(255.6 304.05) scale(0.88 1)" font-size="8.4" text-anchor="end" font-weight="bold" fill="#111" stroke="#111" stroke-width="0.22" >0</text>
<text transform="translate(255.6 279.07) scale(0.88 1)" font-size="8.4" text-anchor="end" font-weight="bold" fill="#111" stroke="#111" stroke-width="0.22" >50</text>
<text transform="translate(255.6 254.09) scale(0.88 1)" font-size="8.4" text-anchor="end" font-weight="bold" fill="#111" stroke="#111" stroke-width="0.22" >100</text>
<text transform="translate(255.6 229.1) scale(0.88 1)" font-size="8.4" text-anchor="end" font-weight="bold" fill="#111" stroke="#111" stroke-width="0.22" >150</text>
<text transform="translate(255.6 204.12) scale(0.88 1)" font-size="8.4" text-anchor="end" font-weight="bold" fill="#111" stroke="#111" stroke-width="0.22" >200</text>
<text transform="translate(255.6 179.14) scale(0.88 1)" font-size="8.4" text-anchor="end" font-weight="bold" fill="#111" stroke="#111" stroke-width="0.22" >250</text>
<text transform="translate(255.6 154.16) scale(0.88 1)" font-size="8.4" text-anchor="end" font-weight="bold" fill="#111" stroke="#111" stroke-width="0.22" >300</text>
<text transform="translate(255.6 129.18) scale(0.88 1)" font-size="8.4" text-anchor="end" font-weight="bold" fill="#111" stroke="#111" stroke-width="0.22" >350</text>
<text transform="translate(255.6 104.2) scale(0.88 1)" font-size="8.4" text-anchor="end" font-weight="bold" fill="#111" stroke="#111" stroke-width="0.22" >400</text>
<text transform="translate(255.6 79.21) scale(0.88 1)" font-size="8.4" text-anchor="end" font-weight="bold" fill="#111" stroke="#111" stroke-width="0.22" >450</text>
<text transform="translate(255.6 54.23) scale(0.88 1)" font-size="8.4" text-anchor="end" font-weight="bold" fill="#111" stroke="#111" stroke-width="0.22" >500</text>
<text transform="translate(255.6 29.25) scale(0.88 1)" font-size="8.4" text-anchor="end" font-weight="bold" fill="#111" stroke="#111" stroke-width="0.22" >550</text>
<text x="343.5" y="364.5" font-size="10.6" text-anchor="middle" font-weight="bold" fill="#111" stroke="#111" stroke-width="0.32" textLength="41.6" lengthAdjust="spacingAndGlyphs">Field (T)</text>
<text transform="translate(232.3 173.0) rotate(-90)" font-size="9.8" text-anchor="middle" font-weight="bold" fill="#111" stroke="#111" stroke-width="0.22">R<tspan font-size="6.0" dy="2.4">H</tspan><tspan dy="-2.4"> (Ω)</tspan></text>
<text transform="translate(236.6 16.6) scale(1.0 1)" font-size="14.8" text-anchor="start" font-weight="normal" fill="#111" stroke="#111" stroke-width="0.3" >c</text>
<path d="M267.5 326.18 L269.5 326.18 L271.5 326.18 L273.5 326.18 L275.5 326.18 L277.5 326.18 L279.5 326.18 L281.5 326.18 L283.5 326.18 L285.5 326.18 L287.5 326.18 L289.5 326.18 L291.5 326.18 L293.5 326.18 L295.5 326.18 L297.5 326.18 L299.5 326.18 L301.5 326.18 L303.5 326.18 L305.5 326.18 L307.5 326.18 L309.5 326.18 L311.5 326.18 L313.5 326.18 L315.5 326.18 L317.5 326.18 L319.5 326.18 L321.5 326.18 L323.5 326.18 L325.5 326.18 L327.5 326.18 L329.5 326.18 L331.5 326.18 L333.5 326.18 L335.5 326.18 L337.5 326.18 L339.5 326.18 L341.5 326.18 L343.5 326.18 L345.5 326.18 L345.75 326.18 L346 326.18 L346.25 326.17 L346.5 326.16 L346.75 326.14 L347 326.1 L347.25 326.02 L347.5 325.85 L347.75 325.5 L348 324.81 L348.25 323.45 L348.5 320.9 L348.75 316.46 L349 309.66 L349.25 301.05 L349.5 292.44 L349.75 285.64 L350 281.2 L350.25 278.65 L350.5 277.29 L350.75 276.6 L351 276.25 L351.25 276.08 L351.5 276 L351.75 275.96 L352 275.94 L352.25 275.93 L352.5 275.92 L352.75 275.92 L353 275.92 L353.25 275.92 L355.25 275.92 L357.25 275.92 L359.25 275.92 L361.25 275.92 L363.25 275.92 L365.25 275.92 L367.25 275.92 L369.25 275.92 L371.25 275.92 L373.25 275.92 L375.25 275.92 L377.25 275.92 L379.25 275.92 L381.25 275.92 L383.25 275.92 L385.25 275.92 L387.25 275.92 L389.25 275.92 L391.25 275.92 L393.25 275.92 L395.25 275.92 L397.25 275.92 L399.25 275.92 L401.25 275.92 L403.25 275.92 L405.25 275.92 L407.25 275.92 L409.25 275.92 L411.25 275.92 L413.25 275.92 L415.25 275.92 L417.25 275.92" fill="none" stroke="#a870dc" stroke-width="0.9"/>
<path d="M267.5 326.18 L269.5 326.18 L271.5 326.18 L273.5 326.18 L275.5 326.18 L277.5 326.18 L279.5 326.18 L281.5 326.18 L283.5 326.18 L285.5 326.18 L287.5 326.18 L289.5 326.18 L291.5 326.18 L293.5 326.18 L295.5 326.18 L297.5 326.18 L299.5 326.18 L301.5 326.18 L303.5 326.18 L305.5 326.18 L307.5 326.18 L309.5 326.18 L311.5 326.18 L313.5 326.18 L315.5 326.18 L317.5 326.18 L319.5 326.18 L321.5 326.18 L323.5 326.18 L325.5 326.18 L327.5 326.18 L329.5 326.18 L331.5 326.18 L333.5 326.18 L335.5 326.14 L335.75 326.09 L336 325.99 L336.25 325.79 L336.5 325.4 L336.75 324.6 L337 323.06 L337.25 320.19 L337.5 315.3 L337.75 308.04 L338 299.26 L338.25 290.89 L338.5 284.56 L338.75 280.56 L339 278.3 L339.25 277.11 L339.5 276.51 L339.75 276.21 L340 276.06 L340.25 275.99 L340.5 275.95 L340.75 275.94 L341 275.93 L341.25 275.92 L341.5 275.92 L341.75 275.92 L342 275.92 L344 275.92 L346 275.92 L348 275.92 L350 275.92 L352 275.92 L354 275.92 L356 275.92 L358 275.92 L360 275.92 L362 275.92 L364 275.92 L366 275.92 L368 275.92 L370 275.92 L372 275.92 L374 275.92 L376 275.92 L378 275.92 L380 275.92 L382 275.92 L384 275.92 L386 275.92 L388 275.92 L390 275.92 L392 275.92 L394 275.92 L396 275.92 L398 275.92 L400 275.92 L402 275.92 L404 275.92 L406 275.92 L408 275.92 L410 275.92 L412 275.92 L414 275.92 L416 275.92 L418 275.92" fill="none" stroke="#a870dc" stroke-width="0.9"/>
<text transform="translate(393 288.4) scale(0.88 1)" font-size="8.9" text-anchor="middle" font-weight="bold" fill="#9a4fd3" stroke="#9a4fd3" stroke-width="0.22" >2 K</text>
<path d="M267.5 300.4 L269.5 300.4 L271.5 300.4 L273.5 300.4 L275.5 300.4 L277.5 300.4 L279.5 300.4 L281.5 300.4 L283.5 300.4 L285.5 300.4 L287.5 300.4 L289.5 300.4 L291.5 300.4 L293.5 300.4 L295.5 300.4 L297.5 300.4 L299.5 300.4 L301.5 300.4 L303.5 300.4 L305.5 300.4 L307.5 300.4 L309.5 300.4 L311.5 300.4 L313.5 300.4 L315.5 300.4 L317.5 300.4 L319.5 300.4 L321.5 300.4 L323.5 300.4 L325.5 300.4 L327.5 300.4 L329.5 300.4 L331.5 300.4 L333.5 300.4 L335.5 300.4 L337.5 300.4 L339.5 300.4 L341.5 300.4 L343.5 300.4 L345.5 300.4 L345.75 300.39 L346 300.39 L346.25 300.37 L346.5 300.34 L346.75 300.28 L347 300.16 L347.25 299.91 L347.5 299.41 L347.75 298.42 L348 296.52 L348.25 293.1 L348.5 287.53 L348.75 279.86 L349 271.42 L349.25 264.11 L349.5 259 L349.75 255.93 L350 254.26 L350.25 253.4 L350.5 252.96 L350.75 252.74 L351 252.64 L351.25 252.59 L351.5 252.56 L351.75 252.55 L352 252.54 L352.25 252.54 L352.5 252.54 L352.75 252.54 L353 252.54 L355 252.54 L357 252.54 L359 252.54 L361 252.54 L363 252.54 L365 252.54 L367 252.54 L369 252.54 L371 252.54 L373 252.54 L375 252.54 L377 252.54 L379 252.54 L381 252.54 L383 252.54 L385 252.54 L387 252.54 L389 252.54 L391 252.54 L393 252.54 L395 252.54 L397 252.54 L399 252.54 L401 252.54 L403 252.54 L405 252.54 L407 252.54 L409 252.54 L411 252.54 L413 252.54 L415 252.54 L417 252.54" fill="none" stroke="#6e6ad2" stroke-width="0.9"/>
<path d="M267.5 300.4 L269.5 300.4 L271.5 300.4 L273.5 300.4 L275.5 300.4 L277.5 300.4 L279.5 300.4 L281.5 300.4 L283.5 300.4 L285.5 300.4 L287.5 300.4 L289.5 300.4 L291.5 300.4 L293.5 300.4 L295.5 300.4 L297.5 300.4 L299.5 300.4 L301.5 300.4 L303.5 300.4 L305.5 300.4 L307.5 300.4 L309.5 300.4 L311.5 300.4 L313.5 300.4 L315.5 300.4 L317.5 300.4 L319.5 300.4 L321.5 300.4 L323.5 300.4 L325.5 300.4 L327.5 300.4 L329.5 300.4 L331.5 300.4 L333.5 300.4 L335.5 300.39 L335.75 300.37 L336 300.34 L336.25 300.28 L336.5 300.16 L336.75 299.91 L337 299.41 L337.25 298.42 L337.5 296.52 L337.75 293.1 L338 287.53 L338.25 279.86 L338.5 271.42 L338.75 264.11 L339 259 L339.25 255.93 L339.5 254.26 L339.75 253.4 L340 252.96 L340.25 252.74 L340.5 252.64 L340.75 252.59 L341 252.56 L341.25 252.55 L341.5 252.54 L341.75 252.54 L342 252.54 L342.25 252.54 L342.5 252.54 L344.5 252.54 L346.5 252.54 L348.5 252.54 L350.5 252.54 L352.5 252.54 L354.5 252.54 L356.5 252.54 L358.5 252.54 L360.5 252.54 L362.5 252.54 L364.5 252.54 L366.5 252.54 L368.5 252.54 L370.5 252.54 L372.5 252.54 L374.5 252.54 L376.5 252.54 L378.5 252.54 L380.5 252.54 L382.5 252.54 L384.5 252.54 L386.5 252.54 L388.5 252.54 L390.5 252.54 L392.5 252.54 L394.5 252.54 L396.5 252.54 L398.5 252.54 L400.5 252.54 L402.5 252.54 L404.5 252.54 L406.5 252.54 L408.5 252.54 L410.5 252.54 L412.5 252.54 L414.5 252.54 L416.5 252.54 L418.5 252.54" fill="none" stroke="#6e6ad2" stroke-width="0.9"/>
<text transform="translate(393 265.4) scale(0.88 1)" font-size="8.9" text-anchor="middle" font-weight="bold" fill="#7c72d8" stroke="#7c72d8" stroke-width="0.22" >10 K</text>
<path d="M267.5 273.12 L269.5 273.12 L271.5 273.12 L273.5 273.12 L275.5 273.12 L277.5 273.12 L279.5 273.12 L281.5 273.12 L283.5 273.12 L285.5 273.12 L287.5 273.12 L289.5 273.12 L291.5 273.12 L293.5 273.12 L295.5 273.12 L297.5 273.12 L299.5 273.12 L301.5 273.12 L303.5 273.12 L305.5 273.12 L307.5 273.12 L309.5 273.12 L311.5 273.12 L313.5 273.12 L315.5 273.12 L317.5 273.12 L319.5 273.12 L321.5 273.12 L323.5 273.12 L325.5 273.12 L327.5 273.12 L329.5 273.12 L331.5 273.12 L333.5 273.12 L335.5 273.12 L337.5 273.12 L339.5 273.12 L341.5 273.12 L343.5 273.12 L345.5 273.11 L345.75 273.09 L346 273.07 L346.25 273.01 L346.5 272.9 L346.75 272.67 L347 272.22 L347.25 271.32 L347.5 269.59 L347.75 266.47 L348 261.4 L348.25 254.43 L348.5 246.74 L348.75 240.09 L349 235.44 L349.25 232.65 L349.5 231.12 L349.75 230.34 L350 229.94 L350.25 229.74 L350.5 229.65 L350.75 229.6 L351 229.57 L351.25 229.56 L351.5 229.56 L351.75 229.55 L352 229.55 L352.25 229.55 L352.5 229.55 L354.5 229.55 L356.5 229.55 L358.5 229.55 L360.5 229.55 L362.5 229.55 L364.5 229.55 L366.5 229.55 L368.5 229.55 L370.5 229.55 L372.5 229.55 L374.5 229.55 L376.5 229.55 L378.5 229.55 L380.5 229.55 L382.5 229.55 L384.5 229.55 L386.5 229.55 L388.5 229.55 L390.5 229.55 L392.5 229.55 L394.5 229.55 L396.5 229.55 L398.5 229.55 L400.5 229.55 L402.5 229.55 L404.5 229.55 L406.5 229.55 L408.5 229.55 L410.5 229.55 L412.5 229.55 L414.5 229.55 L416.5 229.55 L418.5 229.55" fill="none" stroke="#78c4ee" stroke-width="0.9"/>
<path d="M267.5 273.12 L269.5 273.12 L271.5 273.12 L273.5 273.12 L275.5 273.12 L277.5 273.12 L279.5 273.12 L281.5 273.12 L283.5 273.12 L285.5 273.12 L287.5 273.12 L289.5 273.12 L291.5 273.12 L293.5 273.12 L295.5 273.12 L297.5 273.12 L299.5 273.12 L301.5 273.12 L303.5 273.12 L305.5 273.12 L307.5 273.12 L309.5 273.12 L311.5 273.12 L313.5 273.12 L315.5 273.12 L317.5 273.12 L319.5 273.12 L321.5 273.12 L323.5 273.12 L325.5 273.12 L327.5 273.12 L329.5 273.12 L331.5 273.12 L333.5 273.12 L335.5 273.12 L335.75 273.11 L336 273.11 L336.25 273.09 L336.5 273.07 L336.75 273.01 L337 272.9 L337.25 272.67 L337.5 272.22 L337.75 271.32 L338 269.59 L338.25 266.47 L338.5 261.4 L338.75 254.43 L339 246.74 L339.25 240.09 L339.5 235.44 L339.75 232.65 L340 231.12 L340.25 230.34 L340.5 229.94 L340.75 229.74 L341 229.65 L341.25 229.6 L341.5 229.57 L341.75 229.56 L342 229.56 L342.25 229.55 L342.5 229.55 L342.75 229.55 L343 229.55 L345 229.55 L347 229.55 L349 229.55 L351 229.55 L353 229.55 L355 229.55 L357 229.55 L359 229.55 L361 229.55 L363 229.55 L365 229.55 L367 229.55 L369 229.55 L371 229.55 L373 229.55 L375 229.55 L377 229.55 L379 229.55 L381 229.55 L383 229.55 L385 229.55 L387 229.55 L389 229.55 L391 229.55 L393 229.55 L395 229.55 L397 229.55 L399 229.55 L401 229.55 L403 229.55 L405 229.55 L407 229.55 L409 229.55 L411 229.55 L413 229.55 L415 229.55 L417 229.55" fill="none" stroke="#78c4ee" stroke-width="0.9"/>
<text transform="translate(393 239.5) scale(0.88 1)" font-size="8.9" text-anchor="middle" font-weight="bold" fill="#35ade0" stroke="#35ade0" stroke-width="0.22" >30 K</text>
<path d="M267.5 247.04 L269.5 247.04 L271.5 247.04 L273.5 247.04 L275.5 247.04 L277.5 247.04 L279.5 247.04 L281.5 247.04 L283.5 247.04 L285.5 247.04 L287.5 247.04 L289.5 247.04 L291.5 247.04 L293.5 247.04 L295.5 247.04 L297.5 247.04 L299.5 247.04 L301.5 247.04 L303.5 247.04 L305.5 247.04 L307.5 247.04 L309.5 247.04 L311.5 247.04 L313.5 247.04 L315.5 247.04 L317.5 247.04 L319.5 247.04 L321.5 247.04 L323.5 247.04 L325.5 247.04 L327.5 247.04 L329.5 247.04 L331.5 247.04 L333.5 247.04 L335.5 247.04 L337.5 247.04 L339.5 247.04 L341.5 247.04 L343.5 247.04 L345.5 246.94 L345.75 246.83 L346 246.61 L346.25 246.18 L346.5 245.32 L346.75 243.67 L347 240.7 L347.25 235.86 L347.5 229.2 L347.75 221.87 L348 215.52 L348.25 211.08 L348.5 208.42 L348.75 206.97 L349 206.22 L349.25 205.84 L349.5 205.65 L349.75 205.56 L350 205.51 L350.25 205.49 L350.5 205.48 L350.75 205.47 L351 205.47 L351.25 205.47 L351.5 205.47 L351.75 205.47 L353.75 205.47 L355.75 205.47 L357.75 205.47 L359.75 205.47 L361.75 205.47 L363.75 205.47 L365.75 205.47 L367.75 205.47 L369.75 205.47 L371.75 205.47 L373.75 205.47 L375.75 205.47 L377.75 205.47 L379.75 205.47 L381.75 205.47 L383.75 205.47 L385.75 205.47 L387.75 205.47 L389.75 205.47 L391.75 205.47 L393.75 205.47 L395.75 205.47 L397.75 205.47 L399.75 205.47 L401.75 205.47 L403.75 205.47 L405.75 205.47 L407.75 205.47 L409.75 205.47 L411.75 205.47 L413.75 205.47 L415.75 205.47 L417.75 205.47" fill="none" stroke="#78dcd0" stroke-width="0.9"/>
<path d="M267.5 247.04 L269.5 247.04 L271.5 247.04 L273.5 247.04 L275.5 247.04 L277.5 247.04 L279.5 247.04 L281.5 247.04 L283.5 247.04 L285.5 247.04 L287.5 247.04 L289.5 247.04 L291.5 247.04 L293.5 247.04 L295.5 247.04 L297.5 247.04 L299.5 247.04 L301.5 247.04 L303.5 247.04 L305.5 247.04 L307.5 247.04 L309.5 247.04 L311.5 247.04 L313.5 247.04 L315.5 247.04 L317.5 247.04 L319.5 247.04 L321.5 247.04 L323.5 247.04 L325.5 247.04 L327.5 247.04 L329.5 247.04 L331.5 247.04 L333.5 247.04 L335.5 247.04 L337.5 246.94 L337.75 246.83 L338 246.61 L338.25 246.18 L338.5 245.32 L338.75 243.67 L339 240.7 L339.25 235.86 L339.5 229.2 L339.75 221.87 L340 215.52 L340.25 211.08 L340.5 208.42 L340.75 206.97 L341 206.22 L341.25 205.84 L341.5 205.65 L341.75 205.56 L342 205.51 L342.25 205.49 L342.5 205.48 L342.75 205.47 L343 205.47 L343.25 205.47 L343.5 205.47 L343.75 205.47 L345.75 205.47 L347.75 205.47 L349.75 205.47 L351.75 205.47 L353.75 205.47 L355.75 205.47 L357.75 205.47 L359.75 205.47 L361.75 205.47 L363.75 205.47 L365.75 205.47 L367.75 205.47 L369.75 205.47 L371.75 205.47 L373.75 205.47 L375.75 205.47 L377.75 205.47 L379.75 205.47 L381.75 205.47 L383.75 205.47 L385.75 205.47 L387.75 205.47 L389.75 205.47 L391.75 205.47 L393.75 205.47 L395.75 205.47 L397.75 205.47 L399.75 205.47 L401.75 205.47 L403.75 205.47 L405.75 205.47 L407.75 205.47 L409.75 205.47 L411.75 205.47 L413.75 205.47 L415.75 205.47 L417.75 205.47" fill="none" stroke="#78dcd0" stroke-width="0.9"/>
<text transform="translate(393 215.4) scale(0.88 1)" font-size="8.9" text-anchor="middle" font-weight="bold" fill="#3fcf3f" stroke="#3fcf3f" stroke-width="0.22" >50 K</text>
<path d="M267.5 220.96 L269.5 220.96 L271.5 220.96 L273.5 220.96 L275.5 220.96 L277.5 220.96 L279.5 220.96 L281.5 220.96 L283.5 220.96 L285.5 220.96 L287.5 220.96 L289.5 220.96 L291.5 220.96 L293.5 220.96 L295.5 220.96 L297.5 220.96 L299.5 220.96 L301.5 220.96 L303.5 220.96 L305.5 220.96 L307.5 220.96 L309.5 220.96 L311.5 220.96 L313.5 220.96 L315.5 220.96 L317.5 220.96 L319.5 220.96 L321.5 220.96 L323.5 220.96 L325.5 220.96 L327.5 220.96 L329.5 220.96 L331.5 220.96 L333.5 220.96 L335.5 220.96 L337.5 220.96 L339.5 220.96 L341.5 220.96 L343.5 220.96 L343.75 220.95 L344 220.95 L344.25 220.93 L344.5 220.9 L344.75 220.85 L345 220.73 L345.25 220.49 L345.5 220.01 L345.75 219.08 L346 217.3 L346.25 214.13 L346.5 209.14 L346.75 202.54 L347 195.6 L347.25 189.88 L347.5 186.02 L347.75 183.75 L348 182.53 L348.25 181.91 L348.5 181.59 L348.75 181.44 L349 181.36 L349.25 181.32 L349.5 181.3 L349.75 181.3 L350 181.29 L350.25 181.29 L350.5 181.29 L350.75 181.29 L351 181.29 L353 181.29 L355 181.29 L357 181.29 L359 181.29 L361 181.29 L363 181.29 L365 181.29 L367 181.29 L369 181.29 L371 181.29 L373 181.29 L375 181.29 L377 181.29 L379 181.29 L381 181.29 L383 181.29 L385 181.29 L387 181.29 L389 181.29 L391 181.29 L393 181.29 L395 181.29 L397 181.29 L399 181.29 L401 181.29 L403 181.29 L405 181.29 L407 181.29 L409 181.29 L411 181.29 L413 181.29 L415 181.29 L417 181.29" fill="none" stroke="#a8e888" stroke-width="0.9"/>
<path d="M267.5 220.96 L269.5 220.96 L271.5 220.96 L273.5 220.96 L275.5 220.96 L277.5 220.96 L279.5 220.96 L281.5 220.96 L283.5 220.96 L285.5 220.96 L287.5 220.96 L289.5 220.96 L291.5 220.96 L293.5 220.96 L295.5 220.96 L297.5 220.96 L299.5 220.96 L301.5 220.96 L303.5 220.96 L305.5 220.96 L307.5 220.96 L309.5 220.96 L311.5 220.96 L313.5 220.96 L315.5 220.96 L317.5 220.96 L319.5 220.96 L321.5 220.96 L323.5 220.96 L325.5 220.96 L327.5 220.96 L329.5 220.96 L331.5 220.96 L333.5 220.96 L335.5 220.96 L337.5 220.95 L337.75 220.94 L338 220.92 L338.25 220.87 L338.5 220.79 L338.75 220.61 L339 220.24 L339.25 219.53 L339.5 218.14 L339.75 215.6 L340 211.37 L340.25 205.31 L340.5 198.31 L340.75 191.96 L341 187.34 L341.25 184.5 L341.5 182.93 L341.75 182.11 L342 181.69 L342.25 181.49 L342.5 181.39 L342.75 181.34 L343 181.31 L343.25 181.3 L343.5 181.29 L343.75 181.29 L344 181.29 L344.25 181.29 L344.5 181.29 L346.5 181.29 L348.5 181.29 L350.5 181.29 L352.5 181.29 L354.5 181.29 L356.5 181.29 L358.5 181.29 L360.5 181.29 L362.5 181.29 L364.5 181.29 L366.5 181.29 L368.5 181.29 L370.5 181.29 L372.5 181.29 L374.5 181.29 L376.5 181.29 L378.5 181.29 L380.5 181.29 L382.5 181.29 L384.5 181.29 L386.5 181.29 L388.5 181.29 L390.5 181.29 L392.5 181.29 L394.5 181.29 L396.5 181.29 L398.5 181.29 L400.5 181.29 L402.5 181.29 L404.5 181.29 L406.5 181.29 L408.5 181.29 L410.5 181.29 L412.5 181.29 L414.5 181.29 L416.5 181.29 L418.5 181.29" fill="none" stroke="#a8e888" stroke-width="0.9"/>
<text transform="translate(393 191.6) scale(0.88 1)" font-size="8.9" text-anchor="middle" font-weight="bold" fill="#96bd35" stroke="#96bd35" stroke-width="0.22" >70 K</text>
<path d="M267.5 194.78 L269.5 194.78 L271.5 194.78 L273.5 194.78 L275.5 194.78 L277.5 194.78 L279.5 194.78 L281.5 194.78 L283.5 194.78 L285.5 194.78 L287.5 194.78 L289.5 194.78 L291.5 194.78 L293.5 194.78 L295.5 194.78 L297.5 194.78 L299.5 194.78 L301.5 194.78 L303.5 194.78 L305.5 194.78 L307.5 194.78 L309.5 194.78 L311.5 194.78 L313.5 194.78 L315.5 194.78 L317.5 194.78 L319.5 194.78 L321.5 194.78 L323.5 194.78 L325.5 194.78 L327.5 194.78 L329.5 194.78 L331.5 194.78 L333.5 194.78 L335.5 194.78 L337.5 194.78 L339.5 194.78 L341.5 194.78 L343.5 194.76 L343.75 194.73 L344 194.69 L344.25 194.59 L344.5 194.4 L344.75 194.01 L345 193.25 L345.25 191.78 L345.5 189.14 L345.75 184.83 L346 178.91 L346.25 172.39 L346.5 166.74 L346.75 162.8 L347 160.43 L347.25 159.14 L347.5 158.47 L347.75 158.13 L348 157.97 L348.25 157.88 L348.5 157.84 L348.75 157.82 L349 157.81 L349.25 157.81 L349.5 157.81 L349.75 157.81 L350 157.8 L350.25 157.8 L352.25 157.8 L354.25 157.8 L356.25 157.8 L358.25 157.8 L360.25 157.8 L362.25 157.8 L364.25 157.8 L366.25 157.8 L368.25 157.8 L370.25 157.8 L372.25 157.8 L374.25 157.8 L376.25 157.8 L378.25 157.8 L380.25 157.8 L382.25 157.8 L384.25 157.8 L386.25 157.8 L388.25 157.8 L390.25 157.8 L392.25 157.8 L394.25 157.8 L396.25 157.8 L398.25 157.8 L400.25 157.8 L402.25 157.8 L404.25 157.8 L406.25 157.8 L408.25 157.8 L410.25 157.8 L412.25 157.8 L414.25 157.8 L416.25 157.8 L418.25 157.8" fill="none" stroke="#dcea70" stroke-width="0.9"/>
<path d="M267.5 194.78 L269.5 194.78 L271.5 194.78 L273.5 194.78 L275.5 194.78 L277.5 194.78 L279.5 194.78 L281.5 194.78 L283.5 194.78 L285.5 194.78 L287.5 194.78 L289.5 194.78 L291.5 194.78 L293.5 194.78 L295.5 194.78 L297.5 194.78 L299.5 194.78 L301.5 194.78 L303.5 194.78 L305.5 194.78 L307.5 194.78 L309.5 194.78 L311.5 194.78 L313.5 194.78 L315.5 194.78 L317.5 194.78 L319.5 194.78 L321.5 194.78 L323.5 194.78 L325.5 194.78 L327.5 194.78 L329.5 194.78 L331.5 194.78 L333.5 194.78 L335.5 194.78 L337.5 194.78 L337.75 194.77 L338 194.77 L338.25 194.77 L338.5 194.76 L338.75 194.73 L339 194.69 L339.25 194.59 L339.5 194.4 L339.75 194.01 L340 193.25 L340.25 191.78 L340.5 189.14 L340.75 184.83 L341 178.91 L341.25 172.39 L341.5 166.74 L341.75 162.8 L342 160.43 L342.25 159.14 L342.5 158.47 L342.75 158.13 L343 157.97 L343.25 157.88 L343.5 157.84 L343.75 157.82 L344 157.81 L344.25 157.81 L344.5 157.81 L344.75 157.81 L345 157.8 L345.25 157.8 L347.25 157.8 L349.25 157.8 L351.25 157.8 L353.25 157.8 L355.25 157.8 L357.25 157.8 L359.25 157.8 L361.25 157.8 L363.25 157.8 L365.25 157.8 L367.25 157.8 L369.25 157.8 L371.25 157.8 L373.25 157.8 L375.25 157.8 L377.25 157.8 L379.25 157.8 L381.25 157.8 L383.25 157.8 L385.25 157.8 L387.25 157.8 L389.25 157.8 L391.25 157.8 L393.25 157.8 L395.25 157.8 L397.25 157.8 L399.25 157.8 L401.25 157.8 L403.25 157.8 L405.25 157.8 L407.25 157.8 L409.25 157.8 L411.25 157.8 L413.25 157.8 L415.25 157.8 L417.25 157.8" fill="none" stroke="#dcea70" stroke-width="0.9"/>
<text transform="translate(393 168.1) scale(0.88 1)" font-size="8.9" text-anchor="middle" font-weight="bold" fill="#9fd85a" stroke="#9fd85a" stroke-width="0.22" >100 K</text>
<path d="M267.5 168.3 L269.5 168.3 L271.5 168.3 L273.5 168.3 L275.5 168.3 L277.5 168.3 L279.5 168.3 L281.5 168.3 L283.5 168.3 L285.5 168.3 L287.5 168.3 L289.5 168.3 L291.5 168.3 L293.5 168.3 L295.5 168.3 L297.5 168.3 L299.5 168.3 L301.5 168.3 L303.5 168.3 L305.5 168.3 L307.5 168.3 L309.5 168.3 L311.5 168.3 L313.5 168.3 L315.5 168.3 L317.5 168.3 L319.5 168.3 L321.5 168.3 L323.5 168.3 L325.5 168.3 L327.5 168.3 L329.5 168.3 L331.5 168.3 L333.5 168.3 L335.5 168.3 L337.5 168.3 L339.5 168.3 L341.5 168.3 L343.5 168.19 L343.75 168.07 L344 167.84 L344.25 167.37 L344.5 166.46 L344.75 164.75 L345 161.76 L345.25 157.18 L345.5 151.38 L345.75 145.59 L346 141.01 L346.25 138.02 L346.5 136.31 L346.75 135.4 L347 134.93 L347.25 134.7 L347.5 134.58 L347.75 134.53 L348 134.5 L348.25 134.48 L348.5 134.48 L348.75 134.47 L349 134.47 L349.25 134.47 L349.5 134.47 L351.5 134.47 L353.5 134.47 L355.5 134.47 L357.5 134.47 L359.5 134.47 L361.5 134.47 L363.5 134.47 L365.5 134.47 L367.5 134.47 L369.5 134.47 L371.5 134.47 L373.5 134.47 L375.5 134.47 L377.5 134.47 L379.5 134.47 L381.5 134.47 L383.5 134.47 L385.5 134.47 L387.5 134.47 L389.5 134.47 L391.5 134.47 L393.5 134.47 L395.5 134.47 L397.5 134.47 L399.5 134.47 L401.5 134.47 L403.5 134.47 L405.5 134.47 L407.5 134.47 L409.5 134.47 L411.5 134.47 L413.5 134.47 L415.5 134.47 L417.5 134.47" fill="none" stroke="#f6d070" stroke-width="0.9"/>
<path d="M267.5 168.3 L269.5 168.3 L271.5 168.3 L273.5 168.3 L275.5 168.3 L277.5 168.3 L279.5 168.3 L281.5 168.3 L283.5 168.3 L285.5 168.3 L287.5 168.3 L289.5 168.3 L291.5 168.3 L293.5 168.3 L295.5 168.3 L297.5 168.3 L299.5 168.3 L301.5 168.3 L303.5 168.3 L305.5 168.3 L307.5 168.3 L309.5 168.3 L311.5 168.3 L313.5 168.3 L315.5 168.3 L317.5 168.3 L319.5 168.3 L321.5 168.3 L323.5 168.3 L325.5 168.3 L327.5 168.3 L329.5 168.3 L331.5 168.3 L333.5 168.3 L335.5 168.3 L337.5 168.3 L339.5 168.23 L339.75 168.17 L340 168.04 L340.25 167.77 L340.5 167.23 L340.75 166.19 L341 164.26 L341.25 160.97 L341.5 156.09 L341.75 150.18 L342 144.55 L342.25 140.29 L342.5 137.59 L342.75 136.08 L343 135.28 L343.25 134.87 L343.5 134.67 L343.75 134.57 L344 134.52 L344.25 134.49 L344.5 134.48 L344.75 134.48 L345 134.47 L345.25 134.47 L345.5 134.47 L345.75 134.47 L347.75 134.47 L349.75 134.47 L351.75 134.47 L353.75 134.47 L355.75 134.47 L357.75 134.47 L359.75 134.47 L361.75 134.47 L363.75 134.47 L365.75 134.47 L367.75 134.47 L369.75 134.47 L371.75 134.47 L373.75 134.47 L375.75 134.47 L377.75 134.47 L379.75 134.47 L381.75 134.47 L383.75 134.47 L385.75 134.47 L387.75 134.47 L389.75 134.47 L391.75 134.47 L393.75 134.47 L395.75 134.47 L397.75 134.47 L399.75 134.47 L401.75 134.47 L403.75 134.47 L405.75 134.47 L407.75 134.47 L409.75 134.47 L411.75 134.47 L413.75 134.47 L415.75 134.47 L417.75 134.47" fill="none" stroke="#f6d070" stroke-width="0.9"/>
<text transform="translate(393 146.1) scale(0.88 1)" font-size="8.9" text-anchor="middle" font-weight="bold" fill="#efb32a" stroke="#efb32a" stroke-width="0.22" >125 K</text>
<path d="M267.5 140.62 L269.5 140.62 L271.5 140.62 L273.5 140.62 L275.5 140.62 L277.5 140.62 L279.5 140.62 L281.5 140.62 L283.5 140.62 L285.5 140.62 L287.5 140.62 L289.5 140.62 L291.5 140.62 L293.5 140.62 L295.5 140.62 L297.5 140.62 L299.5 140.62 L301.5 140.62 L303.5 140.62 L305.5 140.62 L307.5 140.62 L309.5 140.62 L311.5 140.62 L313.5 140.62 L315.5 140.62 L317.5 140.62 L319.5 140.62 L321.5 140.62 L323.5 140.62 L325.5 140.62 L327.5 140.62 L329.5 140.62 L331.5 140.62 L333.5 140.62 L335.5 140.62 L337.5 140.62 L339.5 140.62 L341.5 140.6 L341.75 140.59 L342 140.56 L342.25 140.51 L342.5 140.39 L342.75 140.16 L343 139.7 L343.25 138.81 L343.5 137.15 L343.75 134.32 L344 130.12 L344.25 125.04 L344.5 120.2 L344.75 116.54 L345 114.22 L345.25 112.92 L345.5 112.23 L345.75 111.88 L346 111.71 L346.25 111.62 L346.5 111.58 L346.75 111.56 L347 111.55 L347.25 111.54 L347.5 111.54 L347.75 111.54 L348 111.54 L348.25 111.54 L350.25 111.54 L352.25 111.54 L354.25 111.54 L356.25 111.54 L358.25 111.54 L360.25 111.54 L362.25 111.54 L364.25 111.54 L366.25 111.54 L368.25 111.54 L370.25 111.54 L372.25 111.54 L374.25 111.54 L376.25 111.54 L378.25 111.54 L380.25 111.54 L382.25 111.54 L384.25 111.54 L386.25 111.54 L388.25 111.54 L390.25 111.54 L392.25 111.54 L394.25 111.54 L396.25 111.54 L398.25 111.54 L400.25 111.54 L402.25 111.54 L404.25 111.54 L406.25 111.54 L408.25 111.54 L410.25 111.54 L412.25 111.54 L414.25 111.54 L416.25 111.54 L418.25 111.54" fill="none" stroke="#f0a482" stroke-width="0.9"/>
<path d="M267.5 140.62 L269.5 140.62 L271.5 140.62 L273.5 140.62 L275.5 140.62 L277.5 140.62 L279.5 140.62 L281.5 140.62 L283.5 140.62 L285.5 140.62 L287.5 140.62 L289.5 140.62 L291.5 140.62 L293.5 140.62 L295.5 140.62 L297.5 140.62 L299.5 140.62 L301.5 140.62 L303.5 140.62 L305.5 140.62 L307.5 140.62 L309.5 140.62 L311.5 140.62 L313.5 140.62 L315.5 140.62 L317.5 140.62 L319.5 140.62 L321.5 140.62 L323.5 140.62 L325.5 140.62 L327.5 140.62 L329.5 140.62 L331.5 140.62 L333.5 140.62 L335.5 140.62 L337.5 140.62 L339.5 140.62 L339.75 140.61 L340 140.61 L340.25 140.61 L340.5 140.59 L340.75 140.57 L341 140.52 L341.25 140.42 L341.5 140.22 L341.75 139.82 L342 139.04 L342.25 137.56 L342.5 135 L342.75 131.06 L343 126.08 L343.25 121.09 L343.5 117.16 L343.75 114.59 L344 113.12 L344.25 112.33 L344.5 111.93 L344.75 111.73 L345 111.63 L345.25 111.58 L345.5 111.56 L345.75 111.55 L346 111.54 L346.25 111.54 L346.5 111.54 L346.75 111.54 L347 111.54 L349 111.54 L351 111.54 L353 111.54 L355 111.54 L357 111.54 L359 111.54 L361 111.54 L363 111.54 L365 111.54 L367 111.54 L369 111.54 L371 111.54 L373 111.54 L375 111.54 L377 111.54 L379 111.54 L381 111.54 L383 111.54 L385 111.54 L387 111.54 L389 111.54 L391 111.54 L393 111.54 L395 111.54 L397 111.54 L399 111.54 L401 111.54 L403 111.54 L405 111.54 L407 111.54 L409 111.54 L411 111.54 L413 111.54 L415 111.54 L417 111.54" fill="none" stroke="#f0a482" stroke-width="0.9"/>
<text transform="translate(393 122.1) scale(0.88 1)" font-size="8.9" text-anchor="middle" font-weight="bold" fill="#ee9340" stroke="#ee9340" stroke-width="0.22" >150 K</text>
<path d="M267.5 112.64 L269.5 112.64 L271.5 112.64 L273.5 112.64 L275.5 112.64 L277.5 112.64 L279.5 112.64 L281.5 112.64 L283.5 112.64 L285.5 112.64 L287.5 112.64 L289.5 112.64 L291.5 112.64 L293.5 112.64 L295.5 112.64 L297.5 112.64 L299.5 112.64 L301.5 112.64 L303.5 112.64 L305.5 112.64 L307.5 112.64 L309.5 112.64 L311.5 112.64 L313.5 112.64 L315.5 112.64 L317.5 112.64 L319.5 112.64 L321.5 112.64 L323.5 112.64 L325.5 112.64 L327.5 112.64 L329.5 112.64 L331.5 112.64 L333.5 112.64 L335.5 112.64 L337.5 112.64 L339.5 112.64 L341.5 112.58 L341.75 112.52 L342 112.4 L342.25 112.16 L342.5 111.68 L342.75 110.77 L343 109.11 L343.25 106.43 L343.5 102.73 L343.75 98.66 L344 95.14 L344.25 92.67 L344.5 91.19 L344.75 90.39 L345 89.97 L345.25 89.76 L345.5 89.65 L345.75 89.6 L346 89.58 L346.25 89.57 L346.5 89.56 L346.75 89.56 L347 89.56 L347.25 89.55 L347.5 89.55 L347.75 89.55 L349.75 89.55 L351.75 89.55 L353.75 89.55 L355.75 89.55 L357.75 89.55 L359.75 89.55 L361.75 89.55 L363.75 89.55 L365.75 89.55 L367.75 89.55 L369.75 89.55 L371.75 89.55 L373.75 89.55 L375.75 89.55 L377.75 89.55 L379.75 89.55 L381.75 89.55 L383.75 89.55 L385.75 89.55 L387.75 89.55 L389.75 89.55 L391.75 89.55 L393.75 89.55 L395.75 89.55 L397.75 89.55 L399.75 89.55 L401.75 89.55 L403.75 89.55 L405.75 89.55 L407.75 89.55 L409.75 89.55 L411.75 89.55 L413.75 89.55 L415.75 89.55 L417.75 89.55" fill="none" stroke="#e6707c" stroke-width="0.9"/>
<text transform="translate(393 99.6) scale(0.88 1)" font-size="8.9" text-anchor="middle" font-weight="bold" fill="#e01e1e" stroke="#e01e1e" stroke-width="0.22" >180 K</text>
<path d="M267.6 86 L269.96 85.94 L273.14 85.88 L276.93 85.8 L281.13 85.71 L285.51 85.6 L289.89 85.48 L294.06 85.35 L297.8 85.2 L301.26 85.03 L304.69 84.85 L308.06 84.65 L311.34 84.43 L314.51 84.21 L317.53 83.97 L320.37 83.74 L323 83.5 L325.45 83.26 L327.75 83.01 L329.9 82.76 L331.89 82.5 L333.71 82.23 L335.36 81.96 L336.82 81.68 L338.1 81.4 L339.13 81.13 L339.91 80.89 L340.47 80.66 L340.87 80.41 L341.16 80.13 L341.4 79.8 L341.63 79.4 L341.9 78.9 L342.16 78.28 L342.32 77.53 L342.43 76.7 L342.5 75.83 L342.57 74.94 L342.68 74.08 L342.84 73.29 L343.1 72.6 L343.38 72 L343.63 71.45 L343.89 70.94 L344.21 70.47 L344.62 70.03 L345.18 69.63 L345.92 69.25 L346.9 68.9 L347.85 68.58 L348.63 68.29 L349.44 68.04 L350.47 67.82 L351.92 67.62 L353.99 67.44 L356.89 67.26 L360.8 67.1 L366.33 66.95 L373.54 66.81 L381.83 66.69 L390.62 66.59 L399.29 66.5 L407.26 66.42 L413.93 66.35 L418.7 66.3" fill="none" stroke="#e05a60" stroke-width="0.9"/>
<path d="M267.6 59.9 L269.88 59.67 L272.85 59.39 L276.38 59.05 L280.34 58.66 L284.59 58.24 L289.01 57.78 L293.45 57.3 L297.8 56.8 L302.35 56.25 L307.37 55.62 L312.64 54.95 L317.96 54.26 L323.13 53.58 L327.93 52.92 L332.15 52.32 L335.6 51.8 L338.06 51.38 L339.64 51.03 L340.61 50.74 L341.23 50.47 L341.78 50.22 L342.51 49.96 L343.69 49.66 L345.6 49.3 L348.09 48.88 L350.87 48.43 L353.91 47.95 L357.24 47.45 L360.84 46.95 L364.72 46.45 L368.87 45.96 L373.3 45.5 L378.44 45.04 L384.47 44.56 L391.02 44.08 L397.73 43.61 L404.22 43.17 L410.13 42.78 L415.08 42.45 L418.7 42.2" fill="none" stroke="#d85a62" stroke-width="0.9"/>
<path d="M267.6 31.1 L269.88 30.91 L272.85 30.67 L276.38 30.38 L280.34 30.06 L284.59 29.71 L289.01 29.34 L293.45 28.97 L297.8 28.6 L302.35 28.21 L307.37 27.77 L312.64 27.31 L317.96 26.84 L323.13 26.38 L327.93 25.96 L332.15 25.59 L335.6 25.3 L338.06 25.09 L339.64 24.96 L340.61 24.88 L341.23 24.84 L341.78 24.81 L342.51 24.77 L343.69 24.71 L345.6 24.6 L348.09 24.45 L350.87 24.29 L353.91 24.12 L357.24 23.93 L360.84 23.73 L364.72 23.53 L368.87 23.32 L373.3 23.1 L378.44 22.86 L384.47 22.59 L391.02 22.3 L397.73 22.01 L404.22 21.73 L410.13 21.47 L415.08 21.26 L418.7 21.1" fill="none" stroke="#c86670" stroke-width="0.9"/>
<text transform="translate(393 76.9) scale(0.88 1)" font-size="8.9" text-anchor="middle" font-weight="bold" fill="#e01e1e" stroke="#e01e1e" stroke-width="0.22" >200 K</text>
<text transform="translate(393 56.7) scale(0.88 1)" font-size="8.9" text-anchor="middle" font-weight="bold" fill="#e01e1e" stroke="#e01e1e" stroke-width="0.22" >250 K</text>
<text transform="translate(393 34.9) scale(0.88 1)" font-size="8.9" text-anchor="middle" font-weight="bold" fill="#7a1424" stroke="#7a1424" stroke-width="0.22" >300 K</text>
<rect x="469.5" y="10.1" width="178.8" height="148.8" fill="none" stroke="#2a2a2a" stroke-width="1.1"/>
<path d="M482.27 158.9 v-2.4 M482.27 10.1 v2.4 M507.81 158.9 v-2.4 M507.81 10.1 v2.4 M533.36 158.9 v-2.4 M533.36 10.1 v2.4 M558.9 158.9 v-2.4 M558.9 10.1 v2.4 M584.44 158.9 v-2.4 M584.44 10.1 v2.4 M609.99 158.9 v-2.4 M609.99 10.1 v2.4 M635.53 158.9 v-2.4 M635.53 10.1 v2.4 M469.5 158.9 v-1.4 M469.5 10.1 v1.4 M495.04 158.9 v-1.4 M495.04 10.1 v1.4 M520.59 158.9 v-1.4 M520.59 10.1 v1.4 M546.13 158.9 v-1.4 M546.13 10.1 v1.4 M571.67 158.9 v-1.4 M571.67 10.1 v1.4 M597.21 158.9 v-1.4 M597.21 10.1 v1.4 M622.76 158.9 v-1.4 M622.76 10.1 v1.4 M648.3 158.9 v-1.4 M648.3 10.1 v1.4 M469.5 150.63 h2.4 M469.5 134.1 h2.4 M469.5 117.57 h2.4 M469.5 101.03 h2.4 M469.5 84.5 h2.4 M469.5 67.97 h2.4 M469.5 51.43 h2.4 M469.5 34.9 h2.4 M469.5 18.37 h2.4 M469.5 142.37 h1.4 M469.5 125.83 h1.4 M469.5 109.3 h1.4 M469.5 92.77 h1.4 M469.5 76.23 h1.4 M469.5 59.7 h1.4 M469.5 43.17 h1.4 M469.5 26.63 h1.4" stroke="#2a2a2a" stroke-width="0.9" fill="none"/>
<path d="" stroke="#2a2a2a" stroke-width="0.9" fill="none"/>
<path d="M648.3 158.9 h-2.4 M648.3 134.1 h-2.4 M648.3 109.3 h-2.4 M648.3 84.5 h-2.4 M648.3 59.7 h-2.4 M648.3 34.9 h-2.4 M648.3 10.1 h-2.4 M648.3 146.5 h-1.4 M648.3 121.7 h-1.4 M648.3 96.9 h-1.4 M648.3 72.1 h-1.4 M648.3 47.3 h-1.4 M648.3 22.5 h-1.4" stroke="#2a2a2a" stroke-width="0.9"/>
<text transform="translate(482.27 167.65) scale(0.88 1)" font-size="8.4" text-anchor="middle" font-weight="bold" fill="#111" stroke="#111" stroke-width="0.22" >0</text>
<text transform="translate(507.81 167.65) scale(0.88 1)" font-size="8.4" text-anchor="middle" font-weight="bold" fill="#111" stroke="#111" stroke-width="0.22" >50</text>
<text transform="translate(533.36 167.65) scale(0.88 1)" font-size="8.4" text-anchor="middle" font-weight="bold" fill="#111" stroke="#111" stroke-width="0.22" >100</text>
<text transform="translate(558.9 167.65) scale(0.88 1)" font-size="8.4" text-anchor="middle" font-weight="bold" fill="#111" stroke="#111" stroke-width="0.22" >150</text>
<text transform="translate(584.44 167.65) scale(0.88 1)" font-size="8.4" text-anchor="middle" font-weight="bold" fill="#111" stroke="#111" stroke-width="0.22" >200</text>
<text transform="translate(609.99 167.65) scale(0.88 1)" font-size="8.4" text-anchor="middle" font-weight="bold" fill="#111" stroke="#111" stroke-width="0.22" >250</text>
<text transform="translate(635.53 167.65) scale(0.88 1)" font-size="8.4" text-anchor="middle" font-weight="bold" fill="#111" stroke="#111" stroke-width="0.22" >300</text>
<text transform="translate(466.4 153.48) scale(0.88 1)" font-size="8.4" text-anchor="end" font-weight="bold" fill="#111" stroke="#111" stroke-width="0.22" >1</text>
<text transform="translate(466.4 136.95) scale(0.88 1)" font-size="8.4" text-anchor="end" font-weight="bold" fill="#111" stroke="#111" stroke-width="0.22" >2</text>
<text transform="translate(466.4 120.42) scale(0.88 1)" font-size="8.4" text-anchor="end" font-weight="bold" fill="#111" stroke="#111" stroke-width="0.22" >3</text>
<text transform="translate(466.4 103.88) scale(0.88 1)" font-size="8.4" text-anchor="end" font-weight="bold" fill="#111" stroke="#111" stroke-width="0.22" >4</text>
<text transform="translate(466.4 87.35) scale(0.88 1)" font-size="8.4" text-anchor="end" font-weight="bold" fill="#111" stroke="#111" stroke-width="0.22" >5</text>
<text transform="translate(466.4 70.82) scale(0.88 1)" font-size="8.4" text-anchor="end" font-weight="bold" fill="#111" stroke="#111" stroke-width="0.22" >6</text>
<text transform="translate(466.4 54.28) scale(0.88 1)" font-size="8.4" text-anchor="end" font-weight="bold" fill="#111" stroke="#111" stroke-width="0.22" >7</text>
<text transform="translate(466.4 37.75) scale(0.88 1)" font-size="8.4" text-anchor="end" font-weight="bold" fill="#111" stroke="#111" stroke-width="0.22" >8</text>
<text transform="translate(466.4 21.22) scale(0.88 1)" font-size="8.4" text-anchor="end" font-weight="bold" fill="#111" stroke="#111" stroke-width="0.22" >9</text>
<text transform="translate(648.8 160.75) scale(0.88 1)" font-size="8.4" text-anchor="start" font-weight="bold" fill="#111" stroke="#111" stroke-width="0.22" >0</text>
<text transform="translate(648.8 135.95) scale(0.88 1)" font-size="8.4" text-anchor="start" font-weight="bold" fill="#111" stroke="#111" stroke-width="0.22" >10</text>
<text transform="translate(648.8 111.15) scale(0.88 1)" font-size="8.4" text-anchor="start" font-weight="bold" fill="#111" stroke="#111" stroke-width="0.22" >20</text>
<text transform="translate(648.8 86.35) scale(0.88 1)" font-size="8.4" text-anchor="start" font-weight="bold" fill="#111" stroke="#111" stroke-width="0.22" >30</text>
<text transform="translate(648.8 61.55) scale(0.88 1)" font-size="8.4" text-anchor="start" font-weight="bold" fill="#111" stroke="#111" stroke-width="0.22" >40</text>
<text transform="translate(648.8 36.75) scale(0.88 1)" font-size="8.4" text-anchor="start" font-weight="bold" fill="#111" stroke="#111" stroke-width="0.22" >50</text>
<text transform="translate(648.8 11.95) scale(0.88 1)" font-size="8.4" text-anchor="start" font-weight="bold" fill="#111" stroke="#111" stroke-width="0.22" >60</text>
<text x="558.75" y="184" font-size="10.6" text-anchor="middle" font-weight="bold" fill="#111" stroke="#111" stroke-width="0.32" textLength="83.1" lengthAdjust="spacingAndGlyphs">Temperature (K)</text>
<text transform="translate(454.6 84.6) rotate(-90)" font-size="10.6" text-anchor="middle" font-weight="bold" fill="#111" stroke="#111" stroke-width="0.22">n (10<tspan font-size="6.4" dy="-4.2">19</tspan><tspan dy="4.2"> cm</tspan><tspan font-size="6.4" dy="-4.2">-3</tspan><tspan dy="4.2">)</tspan></text>
<text transform="translate(674.2 85.0) rotate(-90)" font-size="10.6" text-anchor="middle" font-weight="bold" fill="#111" stroke="#111" stroke-width="0.22">μ (cm<tspan font-size="6.4" dy="-4.2">2</tspan><tspan dy="4.2">V</tspan><tspan font-size="6.4" dy="-4.2">-1</tspan><tspan dy="4.2">s</tspan><tspan font-size="6.4" dy="-4.2">-1</tspan><tspan dy="4.2">)</tspan></text>
<text transform="translate(444.6 11.5) scale(1.0 1)" font-size="14.2" text-anchor="start" font-weight="normal" fill="#111" stroke="#111" stroke-width="0.3" >d</text>
<defs><radialGradient id="gb" cx="0.4" cy="0.35" r="0.65"><stop offset="0" stop-color="#e8ecff"/><stop offset="0.25" stop-color="#4050ff"/><stop offset="0.7" stop-color="#1418d0"/><stop offset="1" stop-color="#08087a"/></radialGradient><radialGradient id="gr" cx="0.4" cy="0.35" r="0.65"><stop offset="0" stop-color="#ffecec"/><stop offset="0.25" stop-color="#ff4040"/><stop offset="0.7" stop-color="#e01010"/><stop offset="1" stop-color="#8a0606"/></radialGradient></defs>
<path d="M483.29 22.5 L487.38 25.81 L497.6 31.59 L507.81 36.55 L518.03 42.34 L533.36 51.43 L546.13 61.02 L558.9 70.94 L574.23 85.66 L584.44 96.4 L609.99 123.68 L635.53 140.38" fill="none" stroke="#1a22c0" stroke-width="1.5"/>
<path d="M483.29 147.49 L487.38 146.5 L497.6 145.01 L507.81 143.77 L518.03 142.53 L533.36 140.3 L546.13 138.56 L558.9 135.84 L574.23 130.88 L584.44 125.17 L609.99 92.93 L635.53 24.98" fill="none" stroke="#e01414" stroke-width="1.5"/>
<circle cx="483.29" cy="22.5" r="2.5" fill="url(#gb)"/>
<circle cx="487.38" cy="25.81" r="2.5" fill="url(#gb)"/>
<circle cx="497.6" cy="31.59" r="2.5" fill="url(#gb)"/>
<circle cx="507.81" cy="36.55" r="2.5" fill="url(#gb)"/>
<circle cx="518.03" cy="42.34" r="2.5" fill="url(#gb)"/>
<circle cx="533.36" cy="51.43" r="2.5" fill="url(#gb)"/>
<circle cx="546.13" cy="61.02" r="2.5" fill="url(#gb)"/>
<circle cx="558.9" cy="70.94" r="2.5" fill="url(#gb)"/>
<circle cx="574.23" cy="85.66" r="2.5" fill="url(#gb)"/>
<circle cx="584.44" cy="96.4" r="2.5" fill="url(#gb)"/>
<circle cx="609.99" cy="123.68" r="2.5" fill="url(#gb)"/>
<circle cx="635.53" cy="140.38" r="2.5" fill="url(#gb)"/>
<circle cx="483.29" cy="147.49" r="2.5" fill="url(#gr)"/>
<circle cx="487.38" cy="146.5" r="2.5" fill="url(#gr)"/>
<circle cx="497.6" cy="145.01" r="2.5" fill="url(#gr)"/>
<circle cx="507.81" cy="143.77" r="2.5" fill="url(#gr)"/>
<circle cx="518.03" cy="142.53" r="2.5" fill="url(#gr)"/>
<circle cx="533.36" cy="140.3" r="2.5" fill="url(#gr)"/>
<circle cx="546.13" cy="138.56" r="2.5" fill="url(#gr)"/>
<circle cx="558.9" cy="135.84" r="2.5" fill="url(#gr)"/>
<circle cx="574.23" cy="130.88" r="2.5" fill="url(#gr)"/>
<circle cx="584.44" cy="125.17" r="2.5" fill="url(#gr)"/>
<circle cx="609.99" cy="92.93" r="2.5" fill="url(#gr)"/>
<circle cx="635.53" cy="24.98" r="2.5" fill="url(#gr)"/>
<path d="M546.8 56.9 H630.5" stroke="#2a3ae0" stroke-width="1.1"/><path d="M629 54.9 L634 56.9 L629 58.9 Z" fill="#2a3ae0"/>
<path d="M568.6 129.4 H483" stroke="#e03030" stroke-width="1.1"/><path d="M484.5 127.4 L479.5 129.4 L484.5 131.4 Z" fill="#e03030"/>
<rect x="472.6" y="190.9" width="178.9" height="148.5" fill="none" stroke="#2a2a2a" stroke-width="1.1"/>
<path d="M490.49 339.4 v-2.4 M490.49 190.9 v2.4 M526.27 339.4 v-2.4 M526.27 190.9 v2.4 M562.05 339.4 v-2.4 M562.05 190.9 v2.4 M597.83 339.4 v-2.4 M597.83 190.9 v2.4 M633.61 339.4 v-2.4 M633.61 190.9 v2.4 M472.6 339.4 v-1.4 M472.6 190.9 v1.4 M508.38 339.4 v-1.4 M508.38 190.9 v1.4 M544.16 339.4 v-1.4 M544.16 190.9 v1.4 M579.94 339.4 v-1.4 M579.94 190.9 v1.4 M615.72 339.4 v-1.4 M615.72 190.9 v1.4 M651.5 339.4 v-1.4 M651.5 190.9 v1.4 M472.6 331.7 h2.4 M651.5 331.7 h-2.4 M472.6 315.18 h2.4 M651.5 315.18 h-2.4 M472.6 298.65 h2.4 M651.5 298.65 h-2.4 M472.6 282.12 h2.4 M651.5 282.12 h-2.4 M472.6 265.6 h2.4 M651.5 265.6 h-2.4 M472.6 249.07 h2.4 M651.5 249.07 h-2.4 M472.6 232.55 h2.4 M651.5 232.55 h-2.4 M472.6 216.03 h2.4 M651.5 216.03 h-2.4 M472.6 199.5 h2.4 M651.5 199.5 h-2.4 M472.6 323.44 h1.4 M651.5 323.44 h-1.4 M472.6 306.91 h1.4 M651.5 306.91 h-1.4 M472.6 290.39 h1.4 M651.5 290.39 h-1.4 M472.6 273.86 h1.4 M651.5 273.86 h-1.4 M472.6 257.34 h1.4 M651.5 257.34 h-1.4 M472.6 240.81 h1.4 M651.5 240.81 h-1.4 M472.6 224.29 h1.4 M651.5 224.29 h-1.4 M472.6 207.76 h1.4 M651.5 207.76 h-1.4" stroke="#2a2a2a" stroke-width="0.9" fill="none"/>
<text transform="translate(490.49 348.65) scale(0.88 1)" font-size="8.4" text-anchor="middle" font-weight="bold" fill="#111" stroke="#111" stroke-width="0.22" >0</text>
<text transform="translate(526.27 348.65) scale(0.88 1)" font-size="8.4" text-anchor="middle" font-weight="bold" fill="#111" stroke="#111" stroke-width="0.22" >50</text>
<text transform="translate(562.05 348.65) scale(0.88 1)" font-size="8.4" text-anchor="middle" font-weight="bold" fill="#111" stroke="#111" stroke-width="0.22" >100</text>
<text transform="translate(597.83 348.65) scale(0.88 1)" font-size="8.4" text-anchor="middle" font-weight="bold" fill="#111" stroke="#111" stroke-width="0.22" >150</text>
<text transform="translate(633.61 348.65) scale(0.88 1)" font-size="8.4" text-anchor="middle" font-weight="bold" fill="#111" stroke="#111" stroke-width="0.22" >200</text>
<text transform="translate(469.6 334.55) scale(0.88 1)" font-size="8.4" text-anchor="end" font-weight="bold" fill="#111" stroke="#111" stroke-width="0.22" >0.0</text>
<text transform="translate(469.6 318.03) scale(0.88 1)" font-size="8.4" text-anchor="end" font-weight="bold" fill="#111" stroke="#111" stroke-width="0.22" >0.1</text>
<text transform="translate(469.6 301.5) scale(0.88 1)" font-size="8.4" text-anchor="end" font-weight="bold" fill="#111" stroke="#111" stroke-width="0.22" >0.2</text>
<text transform="translate(469.6 284.98) scale(0.88 1)" font-size="8.4" text-anchor="end" font-weight="bold" fill="#111" stroke="#111" stroke-width="0.22" >0.3</text>
<text transform="translate(469.6 268.45) scale(0.88 1)" font-size="8.4" text-anchor="end" font-weight="bold" fill="#111" stroke="#111" stroke-width="0.22" >0.4</text>
<text transform="translate(469.6 251.92) scale(0.88 1)" font-size="8.4" text-anchor="end" font-weight="bold" fill="#111" stroke="#111" stroke-width="0.22" >0.5</text>
<text transform="translate(469.6 235.4) scale(0.88 1)" font-size="8.4" text-anchor="end" font-weight="bold" fill="#111" stroke="#111" stroke-width="0.22" >0.6</text>
<text transform="translate(469.6 218.88) scale(0.88 1)" font-size="8.4" text-anchor="end" font-weight="bold" fill="#111" stroke="#111" stroke-width="0.22" >0.7</text>
<text transform="translate(469.6 202.35) scale(0.88 1)" font-size="8.4" text-anchor="end" font-weight="bold" fill="#111" stroke="#111" stroke-width="0.22" >0.8</text>
<text x="562.45" y="364.9" font-size="10.6" text-anchor="middle" font-weight="bold" fill="#111" stroke="#111" stroke-width="0.32" textLength="83.9" lengthAdjust="spacingAndGlyphs">Temperature (K)</text>
<text transform="translate(449.9 265.5) rotate(-90)" font-size="10.8" text-anchor="middle" font-weight="bold" fill="#111" stroke="#111" stroke-width="0.22">H<tspan font-size="6.4" dy="2.4">c</tspan><tspan dy="-2.4"> (T)</tspan></text>
<text transform="translate(444.6 194) scale(1.0 1)" font-size="14.2" text-anchor="start" font-weight="normal" fill="#111" stroke="#111" stroke-width="0.3" >e</text>
<path d="M491.92 207.17 V214.97 M490.72 207.17 h2.4 M490.72 214.97 h2.4" stroke="#c4c4c4" stroke-width="0.7" fill="none"/>
<rect x="490.62" y="209.77" width="2.6" height="2.6" fill="#111"/>
<path d="M497.65 219.56 V227.36 M496.45 219.56 h2.4 M496.45 227.36 h2.4" stroke="#c4c4c4" stroke-width="0.7" fill="none"/>
<rect x="496.35" y="222.16" width="2.6" height="2.6" fill="#111"/>
<path d="M511.96 242.7 V250.5 M510.76 242.7 h2.4 M510.76 250.5 h2.4" stroke="#c4c4c4" stroke-width="0.7" fill="none"/>
<rect x="510.66" y="245.3" width="2.6" height="2.6" fill="#111"/>
<path d="M526.27 251.78 V259.58 M525.07 251.78 h2.4 M525.07 259.58 h2.4" stroke="#c4c4c4" stroke-width="0.7" fill="none"/>
<rect x="524.97" y="254.38" width="2.6" height="2.6" fill="#111"/>
<path d="M540.58 263.35 V271.15 M539.38 263.35 h2.4 M539.38 271.15 h2.4" stroke="#c4c4c4" stroke-width="0.7" fill="none"/>
<rect x="539.28" y="265.95" width="2.6" height="2.6" fill="#111"/>
<path d="M562.05 275.75 V283.55 M560.85 275.75 h2.4 M560.85 283.55 h2.4" stroke="#c4c4c4" stroke-width="0.7" fill="none"/>
<rect x="560.75" y="278.35" width="2.6" height="2.6" fill="#111"/>
<path d="M579.94 281.53 V289.33 M578.74 281.53 h2.4 M578.74 289.33 h2.4" stroke="#c4c4c4" stroke-width="0.7" fill="none"/>
<rect x="578.64" y="284.13" width="2.6" height="2.6" fill="#111"/>
<path d="M597.83 312.93 V320.73 M596.63 312.93 h2.4 M596.63 320.73 h2.4" stroke="#c4c4c4" stroke-width="0.7" fill="none"/>
<rect x="596.53" y="315.53" width="2.6" height="2.6" fill="#111"/>
<path d="M619.3 323.67 V331.47 M618.1 323.67 h2.4 M618.1 331.47 h2.4" stroke="#c4c4c4" stroke-width="0.7" fill="none"/>
<rect x="618" y="326.27" width="2.6" height="2.6" fill="#111"/>
<path d="M633.61 327.8 V335.6 M632.41 327.8 h2.4 M632.41 335.6 h2.4" stroke="#c4c4c4" stroke-width="0.7" fill="none"/>
<rect x="632.31" y="330.4" width="2.6" height="2.6" fill="#111"/>
</svg></body></html>
